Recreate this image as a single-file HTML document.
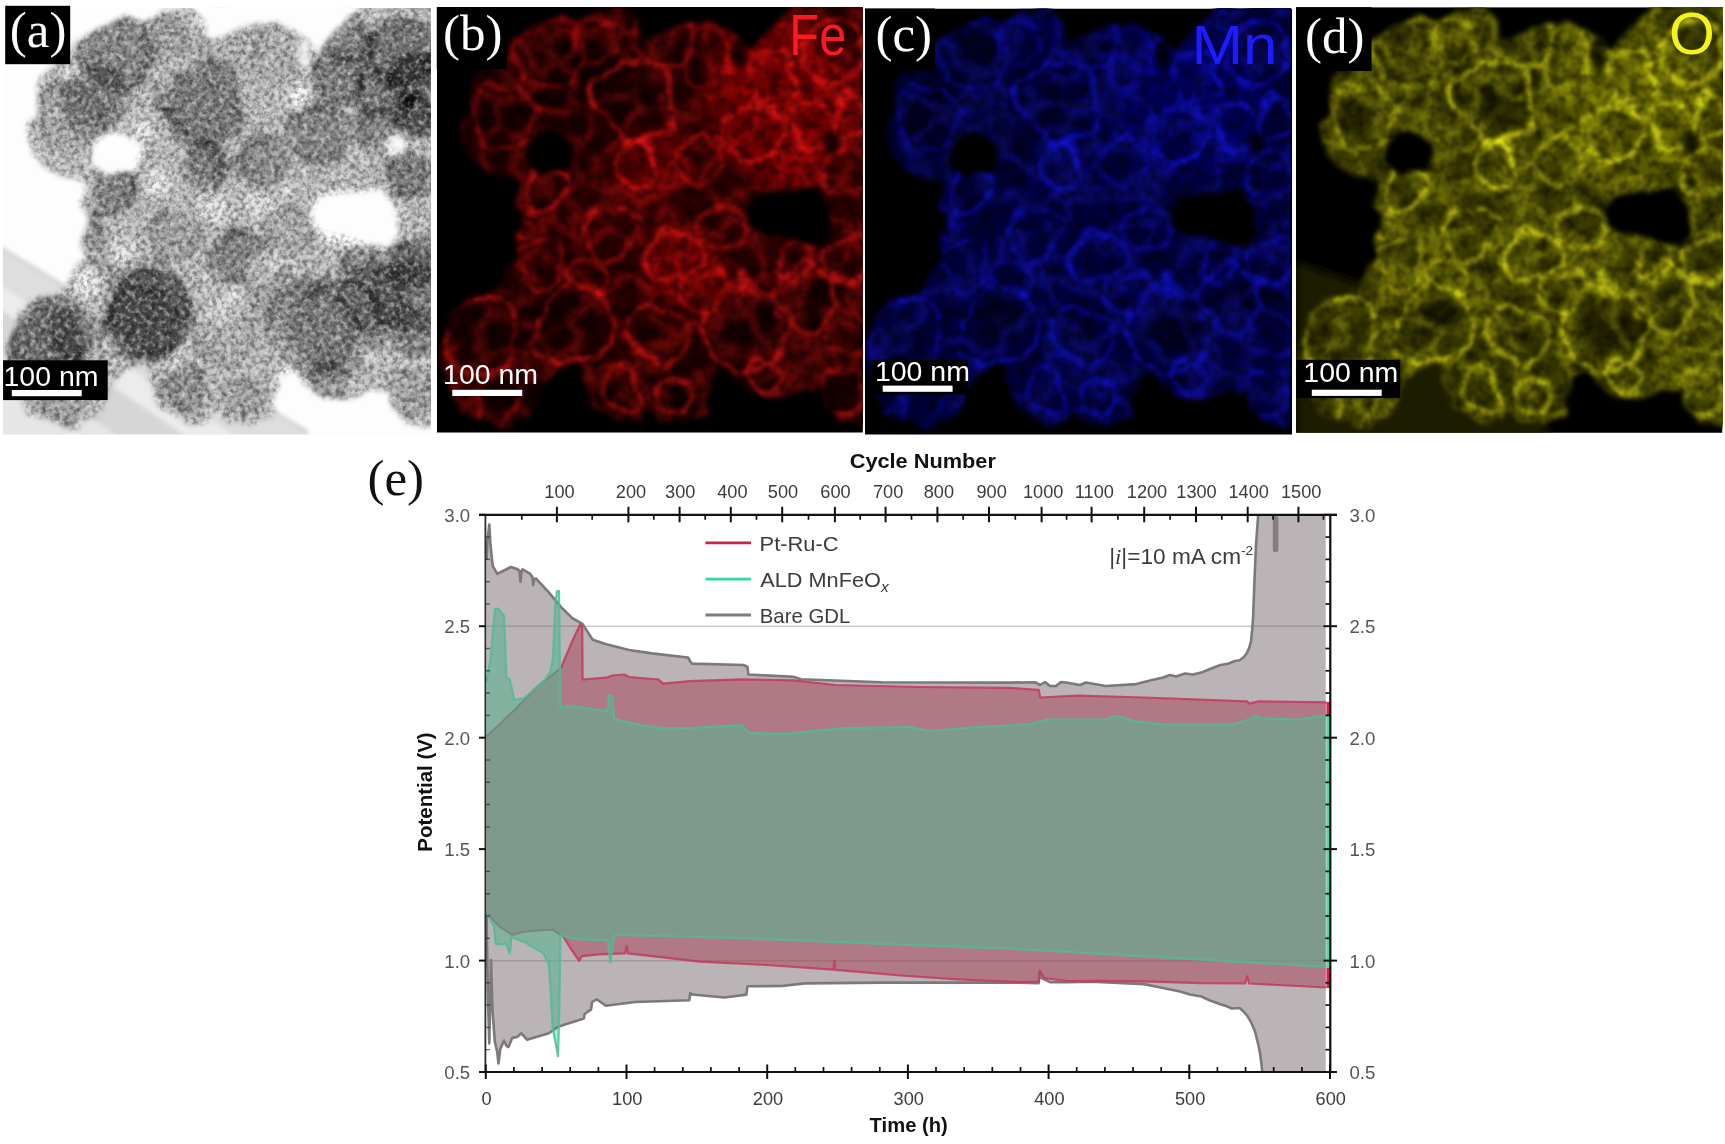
<!DOCTYPE html>
<html><head><meta charset="utf-8"><title>Figure</title>
<style>
html,body{margin:0;padding:0;background:#fff;}
body{width:1725px;height:1144px;overflow:hidden;}
svg{display:block;}
</style></head><body>
<svg width="1725" height="1144" viewBox="0 0 1725 1144">
<rect width="1725" height="1144" fill="#fff"/>
<defs>
<filter id="b3" x="-10%" y="-10%" width="120%" height="120%"><feGaussianBlur stdDeviation="3"/></filter>
<filter id="b2" x="-10%" y="-10%" width="120%" height="120%"><feGaussianBlur stdDeviation="2"/></filter>
<filter id="b5" x="-20%" y="-20%" width="140%" height="140%"><feGaussianBlur stdDeviation="5"/></filter>
<filter id="b9" x="-30%" y="-30%" width="160%" height="160%"><feGaussianBlur stdDeviation="9"/></filter>
<filter id="wob" x="-5%" y="-5%" width="110%" height="110%" color-interpolation-filters="sRGB"><feTurbulence type="fractalNoise" baseFrequency="0.022" numOctaves="3" seed="4" result="t"/><feDisplacementMap in="SourceGraphic" in2="t" scale="32" xChannelSelector="R" yChannelSelector="G"/><feGaussianBlur stdDeviation="2.3"/></filter>
<filter id="wobm" x="-5%" y="-5%" width="110%" height="110%" color-interpolation-filters="sRGB"><feTurbulence type="fractalNoise" baseFrequency="0.035" numOctaves="2" seed="8" result="t"/><feDisplacementMap in="SourceGraphic" in2="t" scale="16" xChannelSelector="R" yChannelSelector="G"/><feGaussianBlur stdDeviation="2.4"/></filter>
<filter id="wobA" x="-5%" y="-5%" width="110%" height="110%" color-interpolation-filters="sRGB"><feTurbulence type="fractalNoise" baseFrequency="0.03" numOctaves="2" seed="14" result="t"/><feDisplacementMap in="SourceGraphic" in2="t" scale="20" xChannelSelector="R" yChannelSelector="G"/><feGaussianBlur stdDeviation="3"/></filter>
<g id="silshape">
<polygon points="81.5,30.8 100.8,19.2 120.0,9.6 143.1,11.5 158.5,3.8 185.4,1.9 196.9,15.4 204.6,30.8 227.7,27.7 250.8,20.0 266.2,14.6 289.2,20.0 306.5,34.6 314.2,50.0 325.8,37.7 335.4,22.3 346.9,8.5 358.5,-0.8 435.4,-3.8 435.4,416.2 408.5,414.2 393.1,400.0 385.4,378.1 358.5,381.5 335.4,393.1 312.3,385.4 293.1,362.3 274.6,366.2 266.9,388.5 264.6,407.7 250.8,416.2 227.7,414.2 216.9,400.0 204.6,412.3 181.5,414.2 162.3,400.8 151.5,373.8 139.2,358.5 120.0,362.3 104.6,377.7 93.1,400.8 73.8,416.2 46.9,416.2 23.8,404.6 10.4,376.9 4.6,338.5 12.3,311.5 31.5,293.1 54.6,288.5 70.0,273.1 81.5,253.8 79.6,230.8 85.4,211.5 80.8,192.3 85.4,173.1 66.2,166.2 46.9,161.5 31.5,146.2 27.7,119.2 34.6,88.5 40.0,69.2 58.5,53.8" fill="#fff" stroke="#fff" stroke-width="4" stroke-linejoin="round"/>
<polygon points="308.5,201.9 335.4,185.8 373.8,181.5 390.0,200.0 393.8,223.1 378.5,238.5 350.8,227.7 327.7,223.8 312.3,213.5" fill="#000" stroke="#000" stroke-width="3" stroke-linejoin="round"/>
<ellipse cx="114" cy="146" rx="25" ry="20" fill="#000"/>
<ellipse cx="397.7" cy="135.4" rx="9" ry="8" fill="#000" fill-opacity="0.8"/>
<ellipse cx="300.8" cy="46.2" rx="9" ry="16" fill="#000" fill-opacity="0.7"/>
</g>
<mask id="silmask" maskUnits="userSpaceOnUse" x="0" y="0" width="430" height="430"><rect width="430" height="430" fill="#000"/><g filter="url(#wobm)"><rect x="-20" y="-20" width="1" height="1" fill="#000"/><use href="#silshape"/></g></mask>
<g id="rings" fill="none" stroke="#fff">
<circle cx="198.8" cy="96.2" r="38.4" stroke-opacity="0.75" stroke-width="4.5"/>
<circle cx="204.6" cy="155.8" r="21.1" stroke-opacity="1.00" stroke-width="4.5"/>
<circle cx="112.3" cy="184.6" r="19.2" stroke-opacity="0.80" stroke-width="4.5"/>
<circle cx="116.2" cy="44.2" r="36.5" stroke-opacity="0.40" stroke-width="4.5"/>
<circle cx="64.2" cy="107.7" r="31.8" stroke-opacity="0.50" stroke-width="4.5"/>
<circle cx="223.8" cy="34.6" r="28.8" stroke-opacity="0.45" stroke-width="4.5"/>
<circle cx="270.0" cy="50.0" r="24.9" stroke-opacity="0.40" stroke-width="4.5"/>
<circle cx="335.4" cy="69.2" r="24.9" stroke-opacity="0.85" stroke-width="4.5"/>
<circle cx="396.9" cy="42.3" r="34.5" stroke-opacity="0.70" stroke-width="4.5"/>
<circle cx="316.2" cy="126.9" r="28.8" stroke-opacity="0.90" stroke-width="4.5"/>
<circle cx="373.8" cy="119.2" r="21.1" stroke-opacity="0.85" stroke-width="4.5"/>
<circle cx="406.5" cy="165.4" r="21.1" stroke-opacity="0.70" stroke-width="4.5"/>
<circle cx="258.5" cy="153.8" r="24.9" stroke-opacity="0.60" stroke-width="4.5"/>
<circle cx="235.4" cy="248.1" r="24.9" stroke-opacity="0.85" stroke-width="4.5"/>
<circle cx="173.8" cy="226.9" r="24.9" stroke-opacity="0.60" stroke-width="4.5"/>
<circle cx="285.4" cy="223.1" r="24.9" stroke-opacity="0.60" stroke-width="4.5"/>
<circle cx="43.1" cy="330.8" r="36.5" stroke-opacity="0.70" stroke-width="4.5"/>
<circle cx="139.2" cy="315.4" r="36.5" stroke-opacity="0.75" stroke-width="4.5"/>
<circle cx="220.0" cy="330.8" r="28.8" stroke-opacity="0.60" stroke-width="4.5"/>
<circle cx="308.5" cy="319.2" r="44.2" stroke-opacity="0.70" stroke-width="4.5"/>
<circle cx="370.0" cy="292.3" r="32.6" stroke-opacity="0.60" stroke-width="4.5"/>
<circle cx="410.4" cy="253.8" r="21.1" stroke-opacity="0.65" stroke-width="4.5"/>
<circle cx="181.5" cy="378.8" r="21.1" stroke-opacity="0.60" stroke-width="4.5"/>
<circle cx="243.1" cy="390.4" r="19.2" stroke-opacity="0.65" stroke-width="4.5"/>
<circle cx="323.8" cy="367.3" r="17.2" stroke-opacity="0.75" stroke-width="4.5"/>
<circle cx="56.5" cy="394.2" r="21.1" stroke-opacity="0.40" stroke-width="4.5"/>
<circle cx="410.4" cy="386.5" r="21.1" stroke-opacity="0.60" stroke-width="4.5"/>
<circle cx="104.6" cy="257.7" r="21.1" stroke-opacity="0.55" stroke-width="4.5"/>
<circle cx="150.8" cy="269.2" r="17.2" stroke-opacity="0.55" stroke-width="4.5"/>
<circle cx="358.5" cy="253.8" r="19.2" stroke-opacity="0.60" stroke-width="4.5"/>
<circle cx="162.3" cy="28.8" r="21.1" stroke-opacity="0.40" stroke-width="4.5"/>
<circle cx="412.3" cy="107.7" r="19.2" stroke-opacity="0.70" stroke-width="4.5"/>
<circle cx="409.2" cy="67.3" r="22.6" stroke-opacity="0.00" stroke-width="4.5"/>
<circle cx="412.3" cy="323.1" r="21.1" stroke-opacity="0.50" stroke-width="4.5"/>
<circle cx="87.3" cy="219.2" r="13.4" stroke-opacity="0.50" stroke-width="4.5"/>
<circle cx="266.2" cy="284.6" r="19.2" stroke-opacity="0.55" stroke-width="4.5"/>
<circle cx="91.2" cy="90.4" r="30.7" stroke-opacity="0.00" stroke-width="4.5"/>
<circle cx="145.0" cy="303.8" r="41.1" stroke-opacity="0.00" stroke-width="4.5"/>
<circle cx="71.2" cy="326.9" r="21.1" stroke-opacity="0.00" stroke-width="4.5"/>
<circle cx="335.0" cy="316.9" r="47.2" stroke-opacity="0.00" stroke-width="4.5"/>
<circle cx="401.9" cy="288.1" r="32.6" stroke-opacity="0.00" stroke-width="4.5"/>
<circle cx="377.7" cy="86.5" r="24.9" stroke-opacity="0.00" stroke-width="4.5"/>
<circle cx="346.9" cy="34.6" r="21.1" stroke-opacity="0.00" stroke-width="4.5"/>
</g>
<filter id="filB" x="0" y="0" width="100%" height="100%" color-interpolation-filters="sRGB"><feTurbulence type="fractalNoise" baseFrequency="0.022" numOctaves="2" seed="3" result="n"/><feColorMatrix type="matrix" values="0 0 0 0 1  0 0 0 0 1  0 0 0 0 1  1.8 0 0 0 -0.4"/><feComponentTransfer><feFuncA type="table" tableValues="0 0 0 0.1 0.6 1 0.6 0.1 0 0 0"/></feComponentTransfer><feGaussianBlur stdDeviation="2.2" result="al"/><feFlood flood-color="#ff1a1a"/><feComposite operator="in" in2="al"/></filter>
<filter id="filC" x="0" y="0" width="100%" height="100%" color-interpolation-filters="sRGB"><feTurbulence type="fractalNoise" baseFrequency="0.021" numOctaves="2" seed="11" result="n"/><feColorMatrix type="matrix" values="0 0 0 0 1  0 0 0 0 1  0 0 0 0 1  1.8 0 0 0 -0.4"/><feComponentTransfer><feFuncA type="table" tableValues="0 0 0 0.1 0.6 1 0.6 0.1 0 0 0"/></feComponentTransfer><feGaussianBlur stdDeviation="2.2" result="al"/><feFlood flood-color="#2626ff"/><feComposite operator="in" in2="al"/></filter>
<filter id="filD" x="0" y="0" width="100%" height="100%" color-interpolation-filters="sRGB"><feTurbulence type="fractalNoise" baseFrequency="0.022" numOctaves="2" seed="7" result="n"/><feColorMatrix type="matrix" values="0 0 0 0 1  0 0 0 0 1  0 0 0 0 1  1.8 0 0 0 -0.4"/><feComponentTransfer><feFuncA type="table" tableValues="0 0 0 0.1 0.6 1 0.6 0.1 0 0 0"/></feComponentTransfer><feGaussianBlur stdDeviation="2.2" result="al"/><feFlood flood-color="#f4f420"/><feComposite operator="in" in2="al"/></filter>
<filter id="grain" x="0" y="0" width="100%" height="100%" color-interpolation-filters="sRGB"><feTurbulence type="fractalNoise" baseFrequency="0.09" numOctaves="2" seed="5"/><feColorMatrix type="matrix" values="0 0 0 0 0  0 0 0 0 0  0 0 0 0 0  2.2 0 0 0 -0.75"/></filter>
<filter id="grainA" x="0" y="0" width="100%" height="100%" color-interpolation-filters="sRGB"><feTurbulence type="fractalNoise" baseFrequency="0.21" numOctaves="3" seed="9"/><feColorMatrix type="matrix" values="0 0 0 0 0  0 0 0 0 0  0 0 0 0 0  2.6 0 0 0 -0.95"/></filter>
<filter id="grainW" x="0" y="0" width="100%" height="100%" color-interpolation-filters="sRGB"><feTurbulence type="fractalNoise" baseFrequency="0.18" numOctaves="3" seed="21"/><feColorMatrix type="matrix" values="0 0 0 0 1  0 0 0 0 1  0 0 0 0 1  2.6 0 0 0 -1.15"/></filter>
<clipPath id="clipa"><rect width="427.2" height="426.5"/></clipPath>
<clipPath id="clipb"><rect width="426.0" height="425.4"/></clipPath>
<clipPath id="clipc"><rect width="427.0" height="426.0"/></clipPath>
<clipPath id="clipd"><rect width="426.2" height="425.5"/></clipPath>
</defs>
<g transform="translate(3.0,7.9)" clip-path="url(#clipa)">
<rect width="430" height="430" fill="#fdfdfd"/>
<g filter="url(#b2)">
<polygon points="-5,238 305,424 305,440 -5,440" fill="#dedede"/>
<polygon points="-5,276 250,440 -5,440" fill="#ececec"/>
<polygon points="-5,300 200,440 -5,440" fill="#d6d6d6"/>
<polygon points="-5,340 130,440 -5,440" fill="#e6e6e6"/>
<polyline points="-5,238 305,424" fill="none" stroke="#c4c4c4" stroke-width="2"/>
</g>
<g mask="url(#silmask)">
<rect width="430" height="430" fill="#c6c6c6"/>
<g filter="url(#wobA)"><rect x="-20" y="-20" width="1" height="1" fill="#000"/>
<circle cx="198.8" cy="96.2" r="40.4" fill="#000" fill-opacity="0.36"/>
<circle cx="204.6" cy="155.8" r="23.1" fill="#000" fill-opacity="0.36"/>
<circle cx="112.3" cy="184.6" r="21.2" fill="#000" fill-opacity="0.32"/>
<circle cx="116.2" cy="44.2" r="38.5" fill="#000" fill-opacity="0.29"/>
<circle cx="64.2" cy="107.7" r="33.8" fill="#000" fill-opacity="0.11"/>
<circle cx="223.8" cy="34.6" r="30.8" fill="#000" fill-opacity="0.06"/>
<circle cx="270.0" cy="50.0" r="26.9" fill="#000" fill-opacity="0.06"/>
<circle cx="335.4" cy="69.2" r="26.9" fill="#000" fill-opacity="0.32"/>
<circle cx="396.9" cy="42.3" r="36.5" fill="#000" fill-opacity="0.40"/>
<circle cx="316.2" cy="126.9" r="30.8" fill="#000" fill-opacity="0.29"/>
<circle cx="373.8" cy="119.2" r="23.1" fill="#000" fill-opacity="0.25"/>
<circle cx="406.5" cy="165.4" r="23.1" fill="#000" fill-opacity="0.36"/>
<circle cx="258.5" cy="153.8" r="26.9" fill="#000" fill-opacity="0.25"/>
<circle cx="235.4" cy="248.1" r="26.9" fill="#000" fill-opacity="0.32"/>
<circle cx="173.8" cy="226.9" r="26.9" fill="#000" fill-opacity="0.14"/>
<circle cx="285.4" cy="223.1" r="26.9" fill="#000" fill-opacity="0.09"/>
<circle cx="43.1" cy="330.8" r="38.5" fill="#000" fill-opacity="0.45"/>
<circle cx="139.2" cy="315.4" r="38.5" fill="#000" fill-opacity="0.32"/>
<circle cx="220.0" cy="330.8" r="30.8" fill="#000" fill-opacity="0.07"/>
<circle cx="308.5" cy="319.2" r="46.2" fill="#000" fill-opacity="0.18"/>
<circle cx="370.0" cy="292.3" r="34.6" fill="#000" fill-opacity="0.29"/>
<circle cx="410.4" cy="253.8" r="23.1" fill="#000" fill-opacity="0.45"/>
<circle cx="181.5" cy="378.8" r="23.1" fill="#000" fill-opacity="0.22"/>
<circle cx="243.1" cy="390.4" r="21.2" fill="#000" fill-opacity="0.11"/>
<circle cx="323.8" cy="367.3" r="19.2" fill="#000" fill-opacity="0.22"/>
<circle cx="56.5" cy="394.2" r="23.1" fill="#000" fill-opacity="0.13"/>
<circle cx="410.4" cy="386.5" r="23.1" fill="#000" fill-opacity="0.13"/>
<circle cx="104.6" cy="257.7" r="23.1" fill="#000" fill-opacity="0.16"/>
<circle cx="150.8" cy="269.2" r="19.2" fill="#000" fill-opacity="0.11"/>
<circle cx="358.5" cy="253.8" r="21.2" fill="#000" fill-opacity="0.22"/>
<circle cx="162.3" cy="28.8" r="23.1" fill="#000" fill-opacity="0.09"/>
<circle cx="412.3" cy="107.7" r="21.2" fill="#000" fill-opacity="0.58"/>
<circle cx="409.2" cy="67.3" r="24.6" fill="#000" fill-opacity="0.45"/>
<circle cx="412.3" cy="323.1" r="23.1" fill="#000" fill-opacity="0.32"/>
<circle cx="87.3" cy="219.2" r="15.4" fill="#000" fill-opacity="0.22"/>
<circle cx="266.2" cy="284.6" r="21.2" fill="#000" fill-opacity="0.14"/>
<circle cx="91.2" cy="90.4" r="32.7" fill="#000" fill-opacity="0.32"/>
<circle cx="145.0" cy="303.8" r="43.1" fill="#000" fill-opacity="0.45"/>
<circle cx="71.2" cy="326.9" r="23.1" fill="#000" fill-opacity="0.29"/>
<circle cx="335.0" cy="316.9" r="49.2" fill="#000" fill-opacity="0.23"/>
<circle cx="401.9" cy="288.1" r="34.6" fill="#000" fill-opacity="0.36"/>
<circle cx="377.7" cy="86.5" r="26.9" fill="#000" fill-opacity="0.32"/>
<circle cx="346.9" cy="34.6" r="23.1" fill="#000" fill-opacity="0.29"/>
</g>
<g fill="none" stroke="#000" stroke-linecap="round" filter="url(#wob)"><rect x="-20" y="-20" width="1" height="1" fill="#000" stroke="none"/>
<circle cx="198.8" cy="96.2" r="38.4" stroke-opacity="0.40" stroke-width="4.5" stroke-dasharray="102.9 31.5 68.3 36.6" transform="rotate(266 198.8 96.2)"/>
<circle cx="204.6" cy="155.8" r="21.1" stroke-opacity="0.40" stroke-width="4.5" stroke-dasharray="69.7 7.7 31.9 20.9" transform="rotate(234 204.6 155.8)"/>
<circle cx="112.3" cy="184.6" r="19.2" stroke-opacity="0.37" stroke-width="4.5" stroke-dasharray="63.2 8.2 29.3 9.9" transform="rotate(196 112.3 184.6)"/>
<circle cx="116.2" cy="44.2" r="36.5" stroke-opacity="0.34" stroke-width="4.5" stroke-dasharray="95.1 12.4 44.1 18.8" transform="rotate(330 116.2 44.2)"/>
<circle cx="64.2" cy="107.7" r="31.8" stroke-opacity="0.20" stroke-width="4.5" stroke-dasharray="93.9 14.0 57.3 13.6" transform="rotate(222 64.2 107.7)"/>
<circle cx="223.8" cy="34.6" r="28.8" stroke-opacity="0.16" stroke-width="4.5" stroke-dasharray="54.5 9.7 54.3 13.7" transform="rotate(78 223.8 34.6)"/>
<circle cx="270.0" cy="50.0" r="24.9" stroke-opacity="0.16" stroke-width="4.5" stroke-dasharray="83.8 23.2 32.7 24.7" transform="rotate(194 270.0 50.0)"/>
<circle cx="335.4" cy="69.2" r="24.9" stroke-opacity="0.37" stroke-width="4.5" stroke-dasharray="71.0 11.9 49.2 20.1" transform="rotate(348 335.4 69.2)"/>
<circle cx="396.9" cy="42.3" r="34.5" stroke-opacity="0.42" stroke-width="4.5" stroke-dasharray="108.7 18.3 46.9 15.3" transform="rotate(52 396.9 42.3)"/>
<circle cx="316.2" cy="126.9" r="28.8" stroke-opacity="0.34" stroke-width="4.5" stroke-dasharray="51.5 15.5 46.5 9.7" transform="rotate(244 316.2 126.9)"/>
<circle cx="373.8" cy="119.2" r="21.1" stroke-opacity="0.31" stroke-width="4.5" stroke-dasharray="48.5 11.7 39.6 14.2" transform="rotate(114 373.8 119.2)"/>
<circle cx="406.5" cy="165.4" r="21.1" stroke-opacity="0.40" stroke-width="4.5" stroke-dasharray="53.7 17.5 23.0 21.4" transform="rotate(8 406.5 165.4)"/>
<circle cx="258.5" cy="153.8" r="24.9" stroke-opacity="0.31" stroke-width="4.5" stroke-dasharray="74.0 22.7 25.8 21.8" transform="rotate(132 258.5 153.8)"/>
<circle cx="235.4" cy="248.1" r="24.9" stroke-opacity="0.37" stroke-width="4.5" stroke-dasharray="66.8 8.6 26.6 11.5" transform="rotate(344 235.4 248.1)"/>
<circle cx="173.8" cy="226.9" r="24.9" stroke-opacity="0.23" stroke-width="4.5" stroke-dasharray="50.6 21.2 49.0 24.4" transform="rotate(124 173.8 226.9)"/>
<circle cx="285.4" cy="223.1" r="24.9" stroke-opacity="0.19" stroke-width="4.5" stroke-dasharray="57.3 17.3 45.1 10.3" transform="rotate(269 285.4 223.1)"/>
<circle cx="43.1" cy="330.8" r="36.5" stroke-opacity="0.46" stroke-width="4.5" stroke-dasharray="108.6 32.9 37.6 34.9" transform="rotate(33 43.1 330.8)"/>
<circle cx="139.2" cy="315.4" r="36.5" stroke-opacity="0.37" stroke-width="4.5" stroke-dasharray="81.0 26.8 69.5 20.3" transform="rotate(333 139.2 315.4)"/>
<circle cx="220.0" cy="330.8" r="28.8" stroke-opacity="0.17" stroke-width="4.5" stroke-dasharray="74.7 15.7 38.2 13.1" transform="rotate(28 220.0 330.8)"/>
<circle cx="308.5" cy="319.2" r="44.2" stroke-opacity="0.26" stroke-width="4.5" stroke-dasharray="83.3 34.5 86.9 19.2" transform="rotate(17 308.5 319.2)"/>
<circle cx="370.0" cy="292.3" r="32.6" stroke-opacity="0.34" stroke-width="4.5" stroke-dasharray="108.0 22.5 45.9 16.0" transform="rotate(214 370.0 292.3)"/>
<circle cx="410.4" cy="253.8" r="21.1" stroke-opacity="0.46" stroke-width="4.5" stroke-dasharray="66.2 13.9 30.9 8.1" transform="rotate(330 410.4 253.8)"/>
<circle cx="181.5" cy="378.8" r="21.1" stroke-opacity="0.29" stroke-width="4.5" stroke-dasharray="37.4 14.4 40.0 9.1" transform="rotate(263 181.5 378.8)"/>
<circle cx="243.1" cy="390.4" r="19.2" stroke-opacity="0.20" stroke-width="4.5" stroke-dasharray="64.8 15.0 35.6 8.1" transform="rotate(156 243.1 390.4)"/>
<circle cx="323.8" cy="367.3" r="17.2" stroke-opacity="0.29" stroke-width="4.5" stroke-dasharray="34.7 16.2 23.5 11.5" transform="rotate(360 323.8 367.3)"/>
<circle cx="56.5" cy="394.2" r="21.1" stroke-opacity="0.22" stroke-width="4.5" stroke-dasharray="67.1 21.4 31.6 14.3" transform="rotate(263 56.5 394.2)"/>
<circle cx="410.4" cy="386.5" r="21.1" stroke-opacity="0.22" stroke-width="4.5" stroke-dasharray="53.6 11.5 30.5 9.4" transform="rotate(136 410.4 386.5)"/>
<circle cx="104.6" cy="257.7" r="21.1" stroke-opacity="0.24" stroke-width="4.5" stroke-dasharray="72.1 21.2 35.4 14.5" transform="rotate(122 104.6 257.7)"/>
<circle cx="150.8" cy="269.2" r="17.2" stroke-opacity="0.20" stroke-width="4.5" stroke-dasharray="32.9 9.3 32.3 16.5" transform="rotate(130 150.8 269.2)"/>
<circle cx="358.5" cy="253.8" r="19.2" stroke-opacity="0.29" stroke-width="4.5" stroke-dasharray="59.3 16.9 33.8 15.5" transform="rotate(273 358.5 253.8)"/>
<circle cx="162.3" cy="28.8" r="21.1" stroke-opacity="0.19" stroke-width="4.5" stroke-dasharray="49.4 17.5 27.9 14.3" transform="rotate(277 162.3 28.8)"/>
<circle cx="412.3" cy="107.7" r="19.2" stroke-opacity="0.56" stroke-width="4.5" stroke-dasharray="56.2 10.6 38.8 15.3" transform="rotate(209 412.3 107.7)"/>
<circle cx="409.2" cy="67.3" r="22.6" stroke-opacity="0.46" stroke-width="4.5" stroke-dasharray="39.1 16.2 29.0 18.1" transform="rotate(167 409.2 67.3)"/>
<circle cx="412.3" cy="323.1" r="21.1" stroke-opacity="0.37" stroke-width="4.5" stroke-dasharray="65.9 16.6 39.1 12.3" transform="rotate(232 412.3 323.1)"/>
<circle cx="87.3" cy="219.2" r="13.4" stroke-opacity="0.29" stroke-width="4.5" stroke-dasharray="42.0 12.8 19.6 13.0" transform="rotate(313 87.3 219.2)"/>
<circle cx="266.2" cy="284.6" r="19.2" stroke-opacity="0.23" stroke-width="4.5" stroke-dasharray="56.1 19.6 39.0 13.5" transform="rotate(191 266.2 284.6)"/>
<circle cx="91.2" cy="90.4" r="30.7" stroke-opacity="0.37" stroke-width="4.5" stroke-dasharray="59.9 27.5 59.7 20.1" transform="rotate(249 91.2 90.4)"/>
<circle cx="145.0" cy="303.8" r="41.1" stroke-opacity="0.46" stroke-width="4.5" stroke-dasharray="116.4 33.3 47.6 34.7" transform="rotate(209 145.0 303.8)"/>
<circle cx="71.2" cy="326.9" r="21.1" stroke-opacity="0.34" stroke-width="4.5" stroke-dasharray="60.4 13.4 35.3 18.5" transform="rotate(229 71.2 326.9)"/>
<circle cx="335.0" cy="316.9" r="47.2" stroke-opacity="0.30" stroke-width="4.5" stroke-dasharray="133.0 16.3 53.8 29.1" transform="rotate(234 335.0 316.9)"/>
<circle cx="401.9" cy="288.1" r="32.6" stroke-opacity="0.40" stroke-width="4.5" stroke-dasharray="66.3 25.8 53.2 11.8" transform="rotate(170 401.9 288.1)"/>
<circle cx="377.7" cy="86.5" r="24.9" stroke-opacity="0.37" stroke-width="4.5" stroke-dasharray="51.9 9.4 28.8 13.8" transform="rotate(65 377.7 86.5)"/>
<circle cx="346.9" cy="34.6" r="21.1" stroke-opacity="0.34" stroke-width="4.5" stroke-dasharray="43.3 7.8 31.9 12.8" transform="rotate(220 346.9 34.6)"/>
</g>
<g filter="url(#wobA)"><rect x="-20" y="-20" width="1" height="1" fill="#fff"/>
<ellipse cx="116.2" cy="144.2" rx="23.8" ry="17.7" fill="#fff" fill-opacity="1.00"/>
<ellipse cx="141.2" cy="125.0" rx="10.8" ry="11.5" fill="#fff" fill-opacity="0.70"/>
<ellipse cx="293.1" cy="86.5" rx="12.3" ry="13.1" fill="#fff" fill-opacity="0.85"/>
<ellipse cx="391.2" cy="140.4" rx="11.5" ry="10.8" fill="#fff" fill-opacity="0.80"/>
<ellipse cx="154.6" cy="173.1" rx="13.1" ry="11.5" fill="#fff" fill-opacity="0.70"/>
<ellipse cx="208.5" cy="201.9" rx="16.2" ry="12.3" fill="#fff" fill-opacity="0.60"/>
<ellipse cx="258.5" cy="257.7" rx="15.4" ry="15.4" fill="#fff" fill-opacity="0.55"/>
<ellipse cx="235.4" cy="288.5" rx="11.5" ry="10.0" fill="#fff" fill-opacity="0.60"/>
<ellipse cx="120.0" cy="242.3" rx="13.1" ry="11.5" fill="#fff" fill-opacity="0.75"/>
<ellipse cx="214.2" cy="303.8" rx="13.1" ry="11.5" fill="#fff" fill-opacity="0.50"/>
<ellipse cx="258.5" cy="198.1" rx="15.4" ry="11.5" fill="#fff" fill-opacity="0.50"/>
<ellipse cx="85.4" cy="273.1" rx="13.1" ry="15.4" fill="#fff" fill-opacity="0.80"/>
<ellipse cx="348.8" cy="211.5" rx="45.4" ry="27.7" fill="#fff" fill-opacity="1.00"/>
<ellipse cx="281.5" cy="176.9" rx="11.5" ry="10.0" fill="#fff" fill-opacity="0.50"/>
<ellipse cx="170.0" cy="353.8" rx="10.0" ry="9.2" fill="#fff" fill-opacity="0.50"/>
<ellipse cx="285.4" cy="369.2" rx="10.0" ry="11.5" fill="#fff" fill-opacity="0.70"/>
<ellipse cx="366.2" cy="348.1" rx="11.5" ry="8.5" fill="#fff" fill-opacity="0.60"/>
<ellipse cx="70.0" cy="65.4" rx="11.5" ry="10.0" fill="#fff" fill-opacity="0.50"/>
<ellipse cx="196.9" cy="15.4" rx="8.5" ry="8.5" fill="#fff" fill-opacity="0.50"/>
</g>
<rect width="430" height="430" fill="#000" filter="url(#grainA)" opacity="0.40"/>
<rect width="430" height="430" fill="#fff" filter="url(#grainW)" opacity="0.50"/>
</g>
</g>
<g transform="translate(436.8,7.0)" clip-path="url(#clipb)">
<rect width="430" height="430" fill="#000"/>

<g transform="translate(0.0,0)">
<g mask="url(#silmask)">
<rect x="-10" width="450" height="430" fill="#2c0000"/>
<circle cx="198.8" cy="96.2" r="22.2" fill="#000" fill-opacity="0.30" filter="url(#b5)"/>
<circle cx="116.2" cy="44.2" r="21.2" fill="#000" fill-opacity="0.30" filter="url(#b5)"/>
<circle cx="64.2" cy="107.7" r="18.6" fill="#000" fill-opacity="0.30" filter="url(#b5)"/>
<circle cx="223.8" cy="34.6" r="16.9" fill="#000" fill-opacity="0.30" filter="url(#b5)"/>
<circle cx="396.9" cy="42.3" r="20.1" fill="#000" fill-opacity="0.30" filter="url(#b5)"/>
<circle cx="316.2" cy="126.9" r="16.9" fill="#000" fill-opacity="0.30" filter="url(#b5)"/>
<circle cx="43.1" cy="330.8" r="21.2" fill="#000" fill-opacity="0.30" filter="url(#b5)"/>
<circle cx="139.2" cy="315.4" r="21.2" fill="#000" fill-opacity="0.30" filter="url(#b5)"/>
<circle cx="220.0" cy="330.8" r="16.9" fill="#000" fill-opacity="0.30" filter="url(#b5)"/>
<circle cx="308.5" cy="319.2" r="25.4" fill="#000" fill-opacity="0.30" filter="url(#b5)"/>
<circle cx="370.0" cy="292.3" r="19.0" fill="#000" fill-opacity="0.30" filter="url(#b5)"/>
<circle cx="91.2" cy="90.4" r="18.0" fill="#000" fill-opacity="0.30" filter="url(#b5)"/>
<circle cx="145.0" cy="303.8" r="23.7" fill="#000" fill-opacity="0.30" filter="url(#b5)"/>
<circle cx="335.0" cy="316.9" r="27.1" fill="#000" fill-opacity="0.30" filter="url(#b5)"/>
<circle cx="401.9" cy="288.1" r="19.0" fill="#000" fill-opacity="0.30" filter="url(#b5)"/>
<ellipse cx="345.0" cy="95.0" rx="75.0" ry="85.0" fill="#ff0000" fill-opacity="0.30" filter="url(#b9)"/><ellipse cx="215.0" cy="160.0" rx="35.0" ry="35.0" fill="#ff0000" fill-opacity="0.22" filter="url(#b9)"/><ellipse cx="250.0" cy="262.0" rx="45.0" ry="40.0" fill="#ff0000" fill-opacity="0.22" filter="url(#b9)"/><ellipse cx="95.0" cy="120.0" rx="70.0" ry="90.0" fill="#000" fill-opacity="0.35" filter="url(#b9)"/><ellipse cx="190.0" cy="60.0" rx="70.0" ry="50.0" fill="#000" fill-opacity="0.45" filter="url(#b9)"/><ellipse cx="90.0" cy="330.0" rx="80.0" ry="70.0" fill="#000" fill-opacity="0.25" filter="url(#b9)"/><ellipse cx="330.0" cy="350.0" rx="80.0" ry="60.0" fill="#000" fill-opacity="0.32" filter="url(#b9)"/><ellipse cx="200.0" cy="395.0" rx="80.0" ry="40.0" fill="#000" fill-opacity="0.35" filter="url(#b9)"/><ellipse cx="70.0" cy="340.0" rx="70.0" ry="70.0" fill="#000" fill-opacity="0.20" filter="url(#b9)"/><ellipse cx="215.0" cy="415.0" rx="230.0" ry="40.0" fill="#000" fill-opacity="0.40" filter="url(#b9)"/><ellipse cx="400.0" cy="330.0" rx="40.0" ry="80.0" fill="#000" fill-opacity="0.30" filter="url(#b9)"/>
<rect width="430" height="430" fill="#ff1a1a" filter="url(#filB)" opacity="0.30"/>
<g filter="url(#wob)" opacity="0.90"><rect x="-20" y="-20" width="1" height="1" fill="#000"/><g fill="none" stroke="#ff1a1a" stroke-linecap="round">
<circle cx="198.8" cy="96.2" r="38.4" stroke-opacity="0.34" stroke-width="5.0"/>
<circle cx="198.8" cy="96.2" r="38.4" stroke-opacity="0.52" stroke-width="5.0" stroke-dasharray="93.5 23.5 63.4 16.3" transform="rotate(4 198.8 96.2)"/>
<circle cx="204.6" cy="155.8" r="21.1" stroke-opacity="0.45" stroke-width="5.0"/>
<circle cx="204.6" cy="155.8" r="21.1" stroke-opacity="0.70" stroke-width="5.0" stroke-dasharray="49.8 9.0 39.4 17.3" transform="rotate(217 204.6 155.8)"/>
<circle cx="112.3" cy="184.6" r="19.2" stroke-opacity="0.36" stroke-width="5.0"/>
<circle cx="112.3" cy="184.6" r="19.2" stroke-opacity="0.56" stroke-width="5.0" stroke-dasharray="51.8 12.3 22.8 12.5" transform="rotate(58 112.3 184.6)"/>
<circle cx="116.2" cy="44.2" r="36.5" stroke-opacity="0.18" stroke-width="5.0"/>
<circle cx="116.2" cy="44.2" r="36.5" stroke-opacity="0.28" stroke-width="5.0" stroke-dasharray="115.1 10.8 65.9 13.9" transform="rotate(247 116.2 44.2)"/>
<circle cx="64.2" cy="107.7" r="31.8" stroke-opacity="0.23" stroke-width="5.0"/>
<circle cx="64.2" cy="107.7" r="31.8" stroke-opacity="0.35" stroke-width="5.0" stroke-dasharray="71.1 15.4 58.8 11.0" transform="rotate(22 64.2 107.7)"/>
<circle cx="223.8" cy="34.6" r="28.8" stroke-opacity="0.20" stroke-width="5.0"/>
<circle cx="223.8" cy="34.6" r="28.8" stroke-opacity="0.32" stroke-width="5.0" stroke-dasharray="92.6 15.6 31.6 28.7" transform="rotate(341 223.8 34.6)"/>
<circle cx="270.0" cy="50.0" r="24.9" stroke-opacity="0.18" stroke-width="5.0"/>
<circle cx="270.0" cy="50.0" r="24.9" stroke-opacity="0.28" stroke-width="5.0" stroke-dasharray="47.0 12.5 28.8 13.7" transform="rotate(224 270.0 50.0)"/>
<circle cx="335.4" cy="69.2" r="24.9" stroke-opacity="0.38" stroke-width="5.0"/>
<circle cx="335.4" cy="69.2" r="24.9" stroke-opacity="0.59" stroke-width="5.0" stroke-dasharray="49.2 16.2 26.7 11.4" transform="rotate(294 335.4 69.2)"/>
<circle cx="396.9" cy="42.3" r="34.5" stroke-opacity="0.32" stroke-width="5.0"/>
<circle cx="396.9" cy="42.3" r="34.5" stroke-opacity="0.49" stroke-width="5.0" stroke-dasharray="80.4 16.9 55.0 22.4" transform="rotate(138 396.9 42.3)"/>
<circle cx="316.2" cy="126.9" r="28.8" stroke-opacity="0.41" stroke-width="5.0"/>
<circle cx="316.2" cy="126.9" r="28.8" stroke-opacity="0.63" stroke-width="5.0" stroke-dasharray="49.8 19.0 57.1 28.5" transform="rotate(239 316.2 126.9)"/>
<circle cx="373.8" cy="119.2" r="21.1" stroke-opacity="0.38" stroke-width="5.0"/>
<circle cx="373.8" cy="119.2" r="21.1" stroke-opacity="0.59" stroke-width="5.0" stroke-dasharray="49.2 10.0 36.8 17.0" transform="rotate(41 373.8 119.2)"/>
<circle cx="406.5" cy="165.4" r="21.1" stroke-opacity="0.32" stroke-width="5.0"/>
<circle cx="406.5" cy="165.4" r="21.1" stroke-opacity="0.49" stroke-width="5.0" stroke-dasharray="44.8 10.0 32.9 19.0" transform="rotate(180 406.5 165.4)"/>
<circle cx="258.5" cy="153.8" r="24.9" stroke-opacity="0.27" stroke-width="5.0"/>
<circle cx="258.5" cy="153.8" r="24.9" stroke-opacity="0.42" stroke-width="5.0" stroke-dasharray="43.5 17.9 36.3 17.2" transform="rotate(80 258.5 153.8)"/>
<circle cx="235.4" cy="248.1" r="24.9" stroke-opacity="0.38" stroke-width="5.0"/>
<circle cx="235.4" cy="248.1" r="24.9" stroke-opacity="0.59" stroke-width="5.0" stroke-dasharray="60.4 12.0 45.0 10.2" transform="rotate(198 235.4 248.1)"/>
<circle cx="173.8" cy="226.9" r="24.9" stroke-opacity="0.27" stroke-width="5.0"/>
<circle cx="173.8" cy="226.9" r="24.9" stroke-opacity="0.42" stroke-width="5.0" stroke-dasharray="49.8 16.2 26.3 13.1" transform="rotate(124 173.8 226.9)"/>
<circle cx="285.4" cy="223.1" r="24.9" stroke-opacity="0.27" stroke-width="5.0"/>
<circle cx="285.4" cy="223.1" r="24.9" stroke-opacity="0.42" stroke-width="5.0" stroke-dasharray="69.2 7.5 37.0 12.0" transform="rotate(101 285.4 223.1)"/>
<circle cx="43.1" cy="330.8" r="36.5" stroke-opacity="0.32" stroke-width="5.0"/>
<circle cx="43.1" cy="330.8" r="36.5" stroke-opacity="0.49" stroke-width="5.0" stroke-dasharray="89.2 28.2 53.7 35.2" transform="rotate(60 43.1 330.8)"/>
<circle cx="139.2" cy="315.4" r="36.5" stroke-opacity="0.34" stroke-width="5.0"/>
<circle cx="139.2" cy="315.4" r="36.5" stroke-opacity="0.52" stroke-width="5.0" stroke-dasharray="116.3 16.7 43.1 30.2" transform="rotate(328 139.2 315.4)"/>
<circle cx="220.0" cy="330.8" r="28.8" stroke-opacity="0.27" stroke-width="5.0"/>
<circle cx="220.0" cy="330.8" r="28.8" stroke-opacity="0.42" stroke-width="5.0" stroke-dasharray="48.7 11.9 51.3 16.3" transform="rotate(87 220.0 330.8)"/>
<circle cx="308.5" cy="319.2" r="44.2" stroke-opacity="0.32" stroke-width="5.0"/>
<circle cx="308.5" cy="319.2" r="44.2" stroke-opacity="0.49" stroke-width="5.0" stroke-dasharray="73.1 12.5 70.4 43.0" transform="rotate(359 308.5 319.2)"/>
<circle cx="370.0" cy="292.3" r="32.6" stroke-opacity="0.27" stroke-width="5.0"/>
<circle cx="370.0" cy="292.3" r="32.6" stroke-opacity="0.42" stroke-width="5.0" stroke-dasharray="81.8 9.1 43.1 28.0" transform="rotate(300 370.0 292.3)"/>
<circle cx="410.4" cy="253.8" r="21.1" stroke-opacity="0.29" stroke-width="5.0"/>
<circle cx="410.4" cy="253.8" r="21.1" stroke-opacity="0.45" stroke-width="5.0" stroke-dasharray="59.4 8.5 33.2 14.2" transform="rotate(226 410.4 253.8)"/>
<circle cx="181.5" cy="378.8" r="21.1" stroke-opacity="0.27" stroke-width="5.0"/>
<circle cx="181.5" cy="378.8" r="21.1" stroke-opacity="0.42" stroke-width="5.0" stroke-dasharray="45.8 16.8 41.2 9.6" transform="rotate(105 181.5 378.8)"/>
<circle cx="243.1" cy="390.4" r="19.2" stroke-opacity="0.29" stroke-width="5.0"/>
<circle cx="243.1" cy="390.4" r="19.2" stroke-opacity="0.45" stroke-width="5.0" stroke-dasharray="62.2 8.3 38.8 13.5" transform="rotate(251 243.1 390.4)"/>
<circle cx="323.8" cy="367.3" r="17.2" stroke-opacity="0.34" stroke-width="5.0"/>
<circle cx="323.8" cy="367.3" r="17.2" stroke-opacity="0.52" stroke-width="5.0" stroke-dasharray="51.5 6.9 23.3 9.1" transform="rotate(246 323.8 367.3)"/>
<circle cx="56.5" cy="394.2" r="21.1" stroke-opacity="0.18" stroke-width="5.0"/>
<circle cx="56.5" cy="394.2" r="21.1" stroke-opacity="0.28" stroke-width="5.0" stroke-dasharray="61.4 7.3 41.0 13.3" transform="rotate(87 56.5 394.2)"/>
<circle cx="410.4" cy="386.5" r="21.1" stroke-opacity="0.27" stroke-width="5.0"/>
<circle cx="410.4" cy="386.5" r="21.1" stroke-opacity="0.42" stroke-width="5.0" stroke-dasharray="52.0 17.2 33.9 16.3" transform="rotate(331 410.4 386.5)"/>
<circle cx="104.6" cy="257.7" r="21.1" stroke-opacity="0.25" stroke-width="5.0"/>
<circle cx="104.6" cy="257.7" r="21.1" stroke-opacity="0.39" stroke-width="5.0" stroke-dasharray="71.1 14.6 30.8 15.8" transform="rotate(324 104.6 257.7)"/>
<circle cx="150.8" cy="269.2" r="17.2" stroke-opacity="0.25" stroke-width="5.0"/>
<circle cx="150.8" cy="269.2" r="17.2" stroke-opacity="0.39" stroke-width="5.0" stroke-dasharray="54.0 10.4 24.4 10.5" transform="rotate(265 150.8 269.2)"/>
<circle cx="358.5" cy="253.8" r="19.2" stroke-opacity="0.27" stroke-width="5.0"/>
<circle cx="358.5" cy="253.8" r="19.2" stroke-opacity="0.42" stroke-width="5.0" stroke-dasharray="51.9 5.5 34.1 18.7" transform="rotate(287 358.5 253.8)"/>
<circle cx="162.3" cy="28.8" r="21.1" stroke-opacity="0.18" stroke-width="5.0"/>
<circle cx="162.3" cy="28.8" r="21.1" stroke-opacity="0.28" stroke-width="5.0" stroke-dasharray="68.8 16.4 33.4 18.7" transform="rotate(137 162.3 28.8)"/>
<circle cx="412.3" cy="107.7" r="19.2" stroke-opacity="0.32" stroke-width="5.0"/>
<circle cx="412.3" cy="107.7" r="19.2" stroke-opacity="0.49" stroke-width="5.0" stroke-dasharray="36.5 9.1 26.2 19.1" transform="rotate(248 412.3 107.7)"/>
<circle cx="409.2" cy="67.3" r="22.6" stroke-opacity="0.00" stroke-width="5.0"/>
<circle cx="409.2" cy="67.3" r="22.6" stroke-opacity="0.00" stroke-width="5.0" stroke-dasharray="59.6 13.9 26.1 16.0" transform="rotate(252 409.2 67.3)"/>
<circle cx="412.3" cy="323.1" r="21.1" stroke-opacity="0.23" stroke-width="5.0"/>
<circle cx="412.3" cy="323.1" r="21.1" stroke-opacity="0.35" stroke-width="5.0" stroke-dasharray="50.5 8.7 30.6 11.9" transform="rotate(247 412.3 323.1)"/>
<circle cx="87.3" cy="219.2" r="13.4" stroke-opacity="0.23" stroke-width="5.0"/>
<circle cx="87.3" cy="219.2" r="13.4" stroke-opacity="0.35" stroke-width="5.0" stroke-dasharray="27.6 4.6 19.0 11.6" transform="rotate(273 87.3 219.2)"/>
<circle cx="266.2" cy="284.6" r="19.2" stroke-opacity="0.25" stroke-width="5.0"/>
<circle cx="266.2" cy="284.6" r="19.2" stroke-opacity="0.39" stroke-width="5.0" stroke-dasharray="55.1 15.3 27.2 7.0" transform="rotate(176 266.2 284.6)"/>
<circle cx="91.2" cy="90.4" r="30.7" stroke-opacity="0.00" stroke-width="5.0"/>
<circle cx="91.2" cy="90.4" r="30.7" stroke-opacity="0.00" stroke-width="5.0" stroke-dasharray="74.1 11.2 51.4 17.3" transform="rotate(86 91.2 90.4)"/>
<circle cx="145.0" cy="303.8" r="41.1" stroke-opacity="0.00" stroke-width="5.0"/>
<circle cx="145.0" cy="303.8" r="41.1" stroke-opacity="0.00" stroke-width="5.0" stroke-dasharray="89.8 31.3 40.9 23.3" transform="rotate(101 145.0 303.8)"/>
<circle cx="71.2" cy="326.9" r="21.1" stroke-opacity="0.00" stroke-width="5.0"/>
<circle cx="71.2" cy="326.9" r="21.1" stroke-opacity="0.00" stroke-width="5.0" stroke-dasharray="43.5 10.8 26.5 20.6" transform="rotate(180 71.2 326.9)"/>
<circle cx="335.0" cy="316.9" r="47.2" stroke-opacity="0.00" stroke-width="5.0"/>
<circle cx="335.0" cy="316.9" r="47.2" stroke-opacity="0.00" stroke-width="5.0" stroke-dasharray="131.3 16.4 68.0 34.2" transform="rotate(303 335.0 316.9)"/>
<circle cx="401.9" cy="288.1" r="32.6" stroke-opacity="0.00" stroke-width="5.0"/>
<circle cx="401.9" cy="288.1" r="32.6" stroke-opacity="0.00" stroke-width="5.0" stroke-dasharray="68.0 16.7 60.5 29.0" transform="rotate(82 401.9 288.1)"/>
<circle cx="377.7" cy="86.5" r="24.9" stroke-opacity="0.00" stroke-width="5.0"/>
<circle cx="377.7" cy="86.5" r="24.9" stroke-opacity="0.00" stroke-width="5.0" stroke-dasharray="65.0 17.1 35.4 19.8" transform="rotate(239 377.7 86.5)"/>
<circle cx="346.9" cy="34.6" r="21.1" stroke-opacity="0.00" stroke-width="5.0"/>
<circle cx="346.9" cy="34.6" r="21.1" stroke-opacity="0.00" stroke-width="5.0" stroke-dasharray="71.5 12.2 36.6 12.3" transform="rotate(264 346.9 34.6)"/>
</g></g>
<rect width="430" height="430" fill="#000" filter="url(#grain)" opacity="0.50"/>
</g>
</g>
</g>
<g transform="translate(865.0,8.5)" clip-path="url(#clipc)">
<rect width="430" height="430" fill="#000"/>

<g transform="translate(-4.0,0)">
<g mask="url(#silmask)">
<rect x="-10" width="450" height="430" fill="#00003c"/>
<circle cx="198.8" cy="96.2" r="22.2" fill="#000" fill-opacity="0.30" filter="url(#b5)"/>
<circle cx="116.2" cy="44.2" r="21.2" fill="#000" fill-opacity="0.30" filter="url(#b5)"/>
<circle cx="64.2" cy="107.7" r="18.6" fill="#000" fill-opacity="0.30" filter="url(#b5)"/>
<circle cx="223.8" cy="34.6" r="16.9" fill="#000" fill-opacity="0.30" filter="url(#b5)"/>
<circle cx="396.9" cy="42.3" r="20.1" fill="#000" fill-opacity="0.30" filter="url(#b5)"/>
<circle cx="316.2" cy="126.9" r="16.9" fill="#000" fill-opacity="0.30" filter="url(#b5)"/>
<circle cx="43.1" cy="330.8" r="21.2" fill="#000" fill-opacity="0.30" filter="url(#b5)"/>
<circle cx="139.2" cy="315.4" r="21.2" fill="#000" fill-opacity="0.30" filter="url(#b5)"/>
<circle cx="220.0" cy="330.8" r="16.9" fill="#000" fill-opacity="0.30" filter="url(#b5)"/>
<circle cx="308.5" cy="319.2" r="25.4" fill="#000" fill-opacity="0.30" filter="url(#b5)"/>
<circle cx="370.0" cy="292.3" r="19.0" fill="#000" fill-opacity="0.30" filter="url(#b5)"/>
<circle cx="91.2" cy="90.4" r="18.0" fill="#000" fill-opacity="0.30" filter="url(#b5)"/>
<circle cx="145.0" cy="303.8" r="23.7" fill="#000" fill-opacity="0.30" filter="url(#b5)"/>
<circle cx="335.0" cy="316.9" r="27.1" fill="#000" fill-opacity="0.30" filter="url(#b5)"/>
<circle cx="401.9" cy="288.1" r="19.0" fill="#000" fill-opacity="0.30" filter="url(#b5)"/>
<ellipse cx="330.0" cy="90.0" rx="75.0" ry="80.0" fill="#0000ff" fill-opacity="0.15" filter="url(#b9)"/><ellipse cx="100.0" cy="110.0" rx="70.0" ry="80.0" fill="#000" fill-opacity="0.20" filter="url(#b9)"/>
<rect width="430" height="430" fill="#1616ea" filter="url(#filC)" opacity="0.28"/>
<g filter="url(#wob)" opacity="0.90"><rect x="-20" y="-20" width="1" height="1" fill="#000"/><g fill="none" stroke="#1616ea" stroke-linecap="round">
<circle cx="198.8" cy="96.2" r="38.4" stroke-opacity="0.34" stroke-width="5.0"/>
<circle cx="198.8" cy="96.2" r="38.4" stroke-opacity="0.52" stroke-width="5.0" stroke-dasharray="93.5 23.5 63.4 16.3" transform="rotate(4 198.8 96.2)"/>
<circle cx="204.6" cy="155.8" r="21.1" stroke-opacity="0.45" stroke-width="5.0"/>
<circle cx="204.6" cy="155.8" r="21.1" stroke-opacity="0.70" stroke-width="5.0" stroke-dasharray="49.8 9.0 39.4 17.3" transform="rotate(217 204.6 155.8)"/>
<circle cx="112.3" cy="184.6" r="19.2" stroke-opacity="0.36" stroke-width="5.0"/>
<circle cx="112.3" cy="184.6" r="19.2" stroke-opacity="0.56" stroke-width="5.0" stroke-dasharray="51.8 12.3 22.8 12.5" transform="rotate(58 112.3 184.6)"/>
<circle cx="116.2" cy="44.2" r="36.5" stroke-opacity="0.18" stroke-width="5.0"/>
<circle cx="116.2" cy="44.2" r="36.5" stroke-opacity="0.28" stroke-width="5.0" stroke-dasharray="115.1 10.8 65.9 13.9" transform="rotate(247 116.2 44.2)"/>
<circle cx="64.2" cy="107.7" r="31.8" stroke-opacity="0.23" stroke-width="5.0"/>
<circle cx="64.2" cy="107.7" r="31.8" stroke-opacity="0.35" stroke-width="5.0" stroke-dasharray="71.1 15.4 58.8 11.0" transform="rotate(22 64.2 107.7)"/>
<circle cx="223.8" cy="34.6" r="28.8" stroke-opacity="0.20" stroke-width="5.0"/>
<circle cx="223.8" cy="34.6" r="28.8" stroke-opacity="0.32" stroke-width="5.0" stroke-dasharray="92.6 15.6 31.6 28.7" transform="rotate(341 223.8 34.6)"/>
<circle cx="270.0" cy="50.0" r="24.9" stroke-opacity="0.18" stroke-width="5.0"/>
<circle cx="270.0" cy="50.0" r="24.9" stroke-opacity="0.28" stroke-width="5.0" stroke-dasharray="47.0 12.5 28.8 13.7" transform="rotate(224 270.0 50.0)"/>
<circle cx="335.4" cy="69.2" r="24.9" stroke-opacity="0.38" stroke-width="5.0"/>
<circle cx="335.4" cy="69.2" r="24.9" stroke-opacity="0.59" stroke-width="5.0" stroke-dasharray="49.2 16.2 26.7 11.4" transform="rotate(294 335.4 69.2)"/>
<circle cx="396.9" cy="42.3" r="34.5" stroke-opacity="0.32" stroke-width="5.0"/>
<circle cx="396.9" cy="42.3" r="34.5" stroke-opacity="0.49" stroke-width="5.0" stroke-dasharray="80.4 16.9 55.0 22.4" transform="rotate(138 396.9 42.3)"/>
<circle cx="316.2" cy="126.9" r="28.8" stroke-opacity="0.41" stroke-width="5.0"/>
<circle cx="316.2" cy="126.9" r="28.8" stroke-opacity="0.63" stroke-width="5.0" stroke-dasharray="49.8 19.0 57.1 28.5" transform="rotate(239 316.2 126.9)"/>
<circle cx="373.8" cy="119.2" r="21.1" stroke-opacity="0.38" stroke-width="5.0"/>
<circle cx="373.8" cy="119.2" r="21.1" stroke-opacity="0.59" stroke-width="5.0" stroke-dasharray="49.2 10.0 36.8 17.0" transform="rotate(41 373.8 119.2)"/>
<circle cx="406.5" cy="165.4" r="21.1" stroke-opacity="0.32" stroke-width="5.0"/>
<circle cx="406.5" cy="165.4" r="21.1" stroke-opacity="0.49" stroke-width="5.0" stroke-dasharray="44.8 10.0 32.9 19.0" transform="rotate(180 406.5 165.4)"/>
<circle cx="258.5" cy="153.8" r="24.9" stroke-opacity="0.27" stroke-width="5.0"/>
<circle cx="258.5" cy="153.8" r="24.9" stroke-opacity="0.42" stroke-width="5.0" stroke-dasharray="43.5 17.9 36.3 17.2" transform="rotate(80 258.5 153.8)"/>
<circle cx="235.4" cy="248.1" r="24.9" stroke-opacity="0.38" stroke-width="5.0"/>
<circle cx="235.4" cy="248.1" r="24.9" stroke-opacity="0.59" stroke-width="5.0" stroke-dasharray="60.4 12.0 45.0 10.2" transform="rotate(198 235.4 248.1)"/>
<circle cx="173.8" cy="226.9" r="24.9" stroke-opacity="0.27" stroke-width="5.0"/>
<circle cx="173.8" cy="226.9" r="24.9" stroke-opacity="0.42" stroke-width="5.0" stroke-dasharray="49.8 16.2 26.3 13.1" transform="rotate(124 173.8 226.9)"/>
<circle cx="285.4" cy="223.1" r="24.9" stroke-opacity="0.27" stroke-width="5.0"/>
<circle cx="285.4" cy="223.1" r="24.9" stroke-opacity="0.42" stroke-width="5.0" stroke-dasharray="69.2 7.5 37.0 12.0" transform="rotate(101 285.4 223.1)"/>
<circle cx="43.1" cy="330.8" r="36.5" stroke-opacity="0.32" stroke-width="5.0"/>
<circle cx="43.1" cy="330.8" r="36.5" stroke-opacity="0.49" stroke-width="5.0" stroke-dasharray="89.2 28.2 53.7 35.2" transform="rotate(60 43.1 330.8)"/>
<circle cx="139.2" cy="315.4" r="36.5" stroke-opacity="0.34" stroke-width="5.0"/>
<circle cx="139.2" cy="315.4" r="36.5" stroke-opacity="0.52" stroke-width="5.0" stroke-dasharray="116.3 16.7 43.1 30.2" transform="rotate(328 139.2 315.4)"/>
<circle cx="220.0" cy="330.8" r="28.8" stroke-opacity="0.27" stroke-width="5.0"/>
<circle cx="220.0" cy="330.8" r="28.8" stroke-opacity="0.42" stroke-width="5.0" stroke-dasharray="48.7 11.9 51.3 16.3" transform="rotate(87 220.0 330.8)"/>
<circle cx="308.5" cy="319.2" r="44.2" stroke-opacity="0.32" stroke-width="5.0"/>
<circle cx="308.5" cy="319.2" r="44.2" stroke-opacity="0.49" stroke-width="5.0" stroke-dasharray="73.1 12.5 70.4 43.0" transform="rotate(359 308.5 319.2)"/>
<circle cx="370.0" cy="292.3" r="32.6" stroke-opacity="0.27" stroke-width="5.0"/>
<circle cx="370.0" cy="292.3" r="32.6" stroke-opacity="0.42" stroke-width="5.0" stroke-dasharray="81.8 9.1 43.1 28.0" transform="rotate(300 370.0 292.3)"/>
<circle cx="410.4" cy="253.8" r="21.1" stroke-opacity="0.29" stroke-width="5.0"/>
<circle cx="410.4" cy="253.8" r="21.1" stroke-opacity="0.45" stroke-width="5.0" stroke-dasharray="59.4 8.5 33.2 14.2" transform="rotate(226 410.4 253.8)"/>
<circle cx="181.5" cy="378.8" r="21.1" stroke-opacity="0.27" stroke-width="5.0"/>
<circle cx="181.5" cy="378.8" r="21.1" stroke-opacity="0.42" stroke-width="5.0" stroke-dasharray="45.8 16.8 41.2 9.6" transform="rotate(105 181.5 378.8)"/>
<circle cx="243.1" cy="390.4" r="19.2" stroke-opacity="0.29" stroke-width="5.0"/>
<circle cx="243.1" cy="390.4" r="19.2" stroke-opacity="0.45" stroke-width="5.0" stroke-dasharray="62.2 8.3 38.8 13.5" transform="rotate(251 243.1 390.4)"/>
<circle cx="323.8" cy="367.3" r="17.2" stroke-opacity="0.34" stroke-width="5.0"/>
<circle cx="323.8" cy="367.3" r="17.2" stroke-opacity="0.52" stroke-width="5.0" stroke-dasharray="51.5 6.9 23.3 9.1" transform="rotate(246 323.8 367.3)"/>
<circle cx="56.5" cy="394.2" r="21.1" stroke-opacity="0.18" stroke-width="5.0"/>
<circle cx="56.5" cy="394.2" r="21.1" stroke-opacity="0.28" stroke-width="5.0" stroke-dasharray="61.4 7.3 41.0 13.3" transform="rotate(87 56.5 394.2)"/>
<circle cx="410.4" cy="386.5" r="21.1" stroke-opacity="0.27" stroke-width="5.0"/>
<circle cx="410.4" cy="386.5" r="21.1" stroke-opacity="0.42" stroke-width="5.0" stroke-dasharray="52.0 17.2 33.9 16.3" transform="rotate(331 410.4 386.5)"/>
<circle cx="104.6" cy="257.7" r="21.1" stroke-opacity="0.25" stroke-width="5.0"/>
<circle cx="104.6" cy="257.7" r="21.1" stroke-opacity="0.39" stroke-width="5.0" stroke-dasharray="71.1 14.6 30.8 15.8" transform="rotate(324 104.6 257.7)"/>
<circle cx="150.8" cy="269.2" r="17.2" stroke-opacity="0.25" stroke-width="5.0"/>
<circle cx="150.8" cy="269.2" r="17.2" stroke-opacity="0.39" stroke-width="5.0" stroke-dasharray="54.0 10.4 24.4 10.5" transform="rotate(265 150.8 269.2)"/>
<circle cx="358.5" cy="253.8" r="19.2" stroke-opacity="0.27" stroke-width="5.0"/>
<circle cx="358.5" cy="253.8" r="19.2" stroke-opacity="0.42" stroke-width="5.0" stroke-dasharray="51.9 5.5 34.1 18.7" transform="rotate(287 358.5 253.8)"/>
<circle cx="162.3" cy="28.8" r="21.1" stroke-opacity="0.18" stroke-width="5.0"/>
<circle cx="162.3" cy="28.8" r="21.1" stroke-opacity="0.28" stroke-width="5.0" stroke-dasharray="68.8 16.4 33.4 18.7" transform="rotate(137 162.3 28.8)"/>
<circle cx="412.3" cy="107.7" r="19.2" stroke-opacity="0.32" stroke-width="5.0"/>
<circle cx="412.3" cy="107.7" r="19.2" stroke-opacity="0.49" stroke-width="5.0" stroke-dasharray="36.5 9.1 26.2 19.1" transform="rotate(248 412.3 107.7)"/>
<circle cx="409.2" cy="67.3" r="22.6" stroke-opacity="0.00" stroke-width="5.0"/>
<circle cx="409.2" cy="67.3" r="22.6" stroke-opacity="0.00" stroke-width="5.0" stroke-dasharray="59.6 13.9 26.1 16.0" transform="rotate(252 409.2 67.3)"/>
<circle cx="412.3" cy="323.1" r="21.1" stroke-opacity="0.23" stroke-width="5.0"/>
<circle cx="412.3" cy="323.1" r="21.1" stroke-opacity="0.35" stroke-width="5.0" stroke-dasharray="50.5 8.7 30.6 11.9" transform="rotate(247 412.3 323.1)"/>
<circle cx="87.3" cy="219.2" r="13.4" stroke-opacity="0.23" stroke-width="5.0"/>
<circle cx="87.3" cy="219.2" r="13.4" stroke-opacity="0.35" stroke-width="5.0" stroke-dasharray="27.6 4.6 19.0 11.6" transform="rotate(273 87.3 219.2)"/>
<circle cx="266.2" cy="284.6" r="19.2" stroke-opacity="0.25" stroke-width="5.0"/>
<circle cx="266.2" cy="284.6" r="19.2" stroke-opacity="0.39" stroke-width="5.0" stroke-dasharray="55.1 15.3 27.2 7.0" transform="rotate(176 266.2 284.6)"/>
<circle cx="91.2" cy="90.4" r="30.7" stroke-opacity="0.00" stroke-width="5.0"/>
<circle cx="91.2" cy="90.4" r="30.7" stroke-opacity="0.00" stroke-width="5.0" stroke-dasharray="74.1 11.2 51.4 17.3" transform="rotate(86 91.2 90.4)"/>
<circle cx="145.0" cy="303.8" r="41.1" stroke-opacity="0.00" stroke-width="5.0"/>
<circle cx="145.0" cy="303.8" r="41.1" stroke-opacity="0.00" stroke-width="5.0" stroke-dasharray="89.8 31.3 40.9 23.3" transform="rotate(101 145.0 303.8)"/>
<circle cx="71.2" cy="326.9" r="21.1" stroke-opacity="0.00" stroke-width="5.0"/>
<circle cx="71.2" cy="326.9" r="21.1" stroke-opacity="0.00" stroke-width="5.0" stroke-dasharray="43.5 10.8 26.5 20.6" transform="rotate(180 71.2 326.9)"/>
<circle cx="335.0" cy="316.9" r="47.2" stroke-opacity="0.00" stroke-width="5.0"/>
<circle cx="335.0" cy="316.9" r="47.2" stroke-opacity="0.00" stroke-width="5.0" stroke-dasharray="131.3 16.4 68.0 34.2" transform="rotate(303 335.0 316.9)"/>
<circle cx="401.9" cy="288.1" r="32.6" stroke-opacity="0.00" stroke-width="5.0"/>
<circle cx="401.9" cy="288.1" r="32.6" stroke-opacity="0.00" stroke-width="5.0" stroke-dasharray="68.0 16.7 60.5 29.0" transform="rotate(82 401.9 288.1)"/>
<circle cx="377.7" cy="86.5" r="24.9" stroke-opacity="0.00" stroke-width="5.0"/>
<circle cx="377.7" cy="86.5" r="24.9" stroke-opacity="0.00" stroke-width="5.0" stroke-dasharray="65.0 17.1 35.4 19.8" transform="rotate(239 377.7 86.5)"/>
<circle cx="346.9" cy="34.6" r="21.1" stroke-opacity="0.00" stroke-width="5.0"/>
<circle cx="346.9" cy="34.6" r="21.1" stroke-opacity="0.00" stroke-width="5.0" stroke-dasharray="71.5 12.2 36.6 12.3" transform="rotate(264 346.9 34.6)"/>
</g></g>
<rect width="430" height="430" fill="#000" filter="url(#grain)" opacity="0.50"/>
</g>
</g>
</g>
<g transform="translate(1296.0,7.2)" clip-path="url(#clipd)">
<rect width="430" height="430" fill="#000"/>
<polygon points="0,255 60,275 150,330 260,430 0,430" fill="#1e1e00" filter="url(#b5)"/>
<g transform="translate(0.0,0)">
<g mask="url(#silmask)">
<rect x="-10" width="450" height="430" fill="#3c3c00"/>
<circle cx="198.8" cy="96.2" r="22.2" fill="#000" fill-opacity="0.30" filter="url(#b5)"/>
<circle cx="116.2" cy="44.2" r="21.2" fill="#000" fill-opacity="0.30" filter="url(#b5)"/>
<circle cx="64.2" cy="107.7" r="18.6" fill="#000" fill-opacity="0.30" filter="url(#b5)"/>
<circle cx="223.8" cy="34.6" r="16.9" fill="#000" fill-opacity="0.30" filter="url(#b5)"/>
<circle cx="396.9" cy="42.3" r="20.1" fill="#000" fill-opacity="0.30" filter="url(#b5)"/>
<circle cx="316.2" cy="126.9" r="16.9" fill="#000" fill-opacity="0.30" filter="url(#b5)"/>
<circle cx="43.1" cy="330.8" r="21.2" fill="#000" fill-opacity="0.30" filter="url(#b5)"/>
<circle cx="139.2" cy="315.4" r="21.2" fill="#000" fill-opacity="0.30" filter="url(#b5)"/>
<circle cx="220.0" cy="330.8" r="16.9" fill="#000" fill-opacity="0.30" filter="url(#b5)"/>
<circle cx="308.5" cy="319.2" r="25.4" fill="#000" fill-opacity="0.30" filter="url(#b5)"/>
<circle cx="370.0" cy="292.3" r="19.0" fill="#000" fill-opacity="0.30" filter="url(#b5)"/>
<circle cx="91.2" cy="90.4" r="18.0" fill="#000" fill-opacity="0.30" filter="url(#b5)"/>
<circle cx="145.0" cy="303.8" r="23.7" fill="#000" fill-opacity="0.30" filter="url(#b5)"/>
<circle cx="335.0" cy="316.9" r="27.1" fill="#000" fill-opacity="0.30" filter="url(#b5)"/>
<circle cx="401.9" cy="288.1" r="19.0" fill="#000" fill-opacity="0.30" filter="url(#b5)"/>
<ellipse cx="340.0" cy="95.0" rx="75.0" ry="85.0" fill="#ffff00" fill-opacity="0.15" filter="url(#b9)"/><ellipse cx="200.0" cy="60.0" rx="60.0" ry="45.0" fill="#000" fill-opacity="0.20" filter="url(#b9)"/>
<rect width="430" height="430" fill="#f0f01c" filter="url(#filD)" opacity="0.30"/>
<g filter="url(#wob)" opacity="1.00"><rect x="-20" y="-20" width="1" height="1" fill="#000"/><g fill="none" stroke="#f0f01c" stroke-linecap="round">
<circle cx="198.8" cy="96.2" r="38.4" stroke-opacity="0.34" stroke-width="5.0"/>
<circle cx="198.8" cy="96.2" r="38.4" stroke-opacity="0.52" stroke-width="5.0" stroke-dasharray="93.5 23.5 63.4 16.3" transform="rotate(4 198.8 96.2)"/>
<circle cx="204.6" cy="155.8" r="21.1" stroke-opacity="0.45" stroke-width="5.0"/>
<circle cx="204.6" cy="155.8" r="21.1" stroke-opacity="0.70" stroke-width="5.0" stroke-dasharray="49.8 9.0 39.4 17.3" transform="rotate(217 204.6 155.8)"/>
<circle cx="112.3" cy="184.6" r="19.2" stroke-opacity="0.36" stroke-width="5.0"/>
<circle cx="112.3" cy="184.6" r="19.2" stroke-opacity="0.56" stroke-width="5.0" stroke-dasharray="51.8 12.3 22.8 12.5" transform="rotate(58 112.3 184.6)"/>
<circle cx="116.2" cy="44.2" r="36.5" stroke-opacity="0.18" stroke-width="5.0"/>
<circle cx="116.2" cy="44.2" r="36.5" stroke-opacity="0.28" stroke-width="5.0" stroke-dasharray="115.1 10.8 65.9 13.9" transform="rotate(247 116.2 44.2)"/>
<circle cx="64.2" cy="107.7" r="31.8" stroke-opacity="0.23" stroke-width="5.0"/>
<circle cx="64.2" cy="107.7" r="31.8" stroke-opacity="0.35" stroke-width="5.0" stroke-dasharray="71.1 15.4 58.8 11.0" transform="rotate(22 64.2 107.7)"/>
<circle cx="223.8" cy="34.6" r="28.8" stroke-opacity="0.20" stroke-width="5.0"/>
<circle cx="223.8" cy="34.6" r="28.8" stroke-opacity="0.32" stroke-width="5.0" stroke-dasharray="92.6 15.6 31.6 28.7" transform="rotate(341 223.8 34.6)"/>
<circle cx="270.0" cy="50.0" r="24.9" stroke-opacity="0.18" stroke-width="5.0"/>
<circle cx="270.0" cy="50.0" r="24.9" stroke-opacity="0.28" stroke-width="5.0" stroke-dasharray="47.0 12.5 28.8 13.7" transform="rotate(224 270.0 50.0)"/>
<circle cx="335.4" cy="69.2" r="24.9" stroke-opacity="0.38" stroke-width="5.0"/>
<circle cx="335.4" cy="69.2" r="24.9" stroke-opacity="0.59" stroke-width="5.0" stroke-dasharray="49.2 16.2 26.7 11.4" transform="rotate(294 335.4 69.2)"/>
<circle cx="396.9" cy="42.3" r="34.5" stroke-opacity="0.32" stroke-width="5.0"/>
<circle cx="396.9" cy="42.3" r="34.5" stroke-opacity="0.49" stroke-width="5.0" stroke-dasharray="80.4 16.9 55.0 22.4" transform="rotate(138 396.9 42.3)"/>
<circle cx="316.2" cy="126.9" r="28.8" stroke-opacity="0.41" stroke-width="5.0"/>
<circle cx="316.2" cy="126.9" r="28.8" stroke-opacity="0.63" stroke-width="5.0" stroke-dasharray="49.8 19.0 57.1 28.5" transform="rotate(239 316.2 126.9)"/>
<circle cx="373.8" cy="119.2" r="21.1" stroke-opacity="0.38" stroke-width="5.0"/>
<circle cx="373.8" cy="119.2" r="21.1" stroke-opacity="0.59" stroke-width="5.0" stroke-dasharray="49.2 10.0 36.8 17.0" transform="rotate(41 373.8 119.2)"/>
<circle cx="406.5" cy="165.4" r="21.1" stroke-opacity="0.32" stroke-width="5.0"/>
<circle cx="406.5" cy="165.4" r="21.1" stroke-opacity="0.49" stroke-width="5.0" stroke-dasharray="44.8 10.0 32.9 19.0" transform="rotate(180 406.5 165.4)"/>
<circle cx="258.5" cy="153.8" r="24.9" stroke-opacity="0.27" stroke-width="5.0"/>
<circle cx="258.5" cy="153.8" r="24.9" stroke-opacity="0.42" stroke-width="5.0" stroke-dasharray="43.5 17.9 36.3 17.2" transform="rotate(80 258.5 153.8)"/>
<circle cx="235.4" cy="248.1" r="24.9" stroke-opacity="0.38" stroke-width="5.0"/>
<circle cx="235.4" cy="248.1" r="24.9" stroke-opacity="0.59" stroke-width="5.0" stroke-dasharray="60.4 12.0 45.0 10.2" transform="rotate(198 235.4 248.1)"/>
<circle cx="173.8" cy="226.9" r="24.9" stroke-opacity="0.27" stroke-width="5.0"/>
<circle cx="173.8" cy="226.9" r="24.9" stroke-opacity="0.42" stroke-width="5.0" stroke-dasharray="49.8 16.2 26.3 13.1" transform="rotate(124 173.8 226.9)"/>
<circle cx="285.4" cy="223.1" r="24.9" stroke-opacity="0.27" stroke-width="5.0"/>
<circle cx="285.4" cy="223.1" r="24.9" stroke-opacity="0.42" stroke-width="5.0" stroke-dasharray="69.2 7.5 37.0 12.0" transform="rotate(101 285.4 223.1)"/>
<circle cx="43.1" cy="330.8" r="36.5" stroke-opacity="0.32" stroke-width="5.0"/>
<circle cx="43.1" cy="330.8" r="36.5" stroke-opacity="0.49" stroke-width="5.0" stroke-dasharray="89.2 28.2 53.7 35.2" transform="rotate(60 43.1 330.8)"/>
<circle cx="139.2" cy="315.4" r="36.5" stroke-opacity="0.34" stroke-width="5.0"/>
<circle cx="139.2" cy="315.4" r="36.5" stroke-opacity="0.52" stroke-width="5.0" stroke-dasharray="116.3 16.7 43.1 30.2" transform="rotate(328 139.2 315.4)"/>
<circle cx="220.0" cy="330.8" r="28.8" stroke-opacity="0.27" stroke-width="5.0"/>
<circle cx="220.0" cy="330.8" r="28.8" stroke-opacity="0.42" stroke-width="5.0" stroke-dasharray="48.7 11.9 51.3 16.3" transform="rotate(87 220.0 330.8)"/>
<circle cx="308.5" cy="319.2" r="44.2" stroke-opacity="0.32" stroke-width="5.0"/>
<circle cx="308.5" cy="319.2" r="44.2" stroke-opacity="0.49" stroke-width="5.0" stroke-dasharray="73.1 12.5 70.4 43.0" transform="rotate(359 308.5 319.2)"/>
<circle cx="370.0" cy="292.3" r="32.6" stroke-opacity="0.27" stroke-width="5.0"/>
<circle cx="370.0" cy="292.3" r="32.6" stroke-opacity="0.42" stroke-width="5.0" stroke-dasharray="81.8 9.1 43.1 28.0" transform="rotate(300 370.0 292.3)"/>
<circle cx="410.4" cy="253.8" r="21.1" stroke-opacity="0.29" stroke-width="5.0"/>
<circle cx="410.4" cy="253.8" r="21.1" stroke-opacity="0.45" stroke-width="5.0" stroke-dasharray="59.4 8.5 33.2 14.2" transform="rotate(226 410.4 253.8)"/>
<circle cx="181.5" cy="378.8" r="21.1" stroke-opacity="0.27" stroke-width="5.0"/>
<circle cx="181.5" cy="378.8" r="21.1" stroke-opacity="0.42" stroke-width="5.0" stroke-dasharray="45.8 16.8 41.2 9.6" transform="rotate(105 181.5 378.8)"/>
<circle cx="243.1" cy="390.4" r="19.2" stroke-opacity="0.29" stroke-width="5.0"/>
<circle cx="243.1" cy="390.4" r="19.2" stroke-opacity="0.45" stroke-width="5.0" stroke-dasharray="62.2 8.3 38.8 13.5" transform="rotate(251 243.1 390.4)"/>
<circle cx="323.8" cy="367.3" r="17.2" stroke-opacity="0.34" stroke-width="5.0"/>
<circle cx="323.8" cy="367.3" r="17.2" stroke-opacity="0.52" stroke-width="5.0" stroke-dasharray="51.5 6.9 23.3 9.1" transform="rotate(246 323.8 367.3)"/>
<circle cx="56.5" cy="394.2" r="21.1" stroke-opacity="0.18" stroke-width="5.0"/>
<circle cx="56.5" cy="394.2" r="21.1" stroke-opacity="0.28" stroke-width="5.0" stroke-dasharray="61.4 7.3 41.0 13.3" transform="rotate(87 56.5 394.2)"/>
<circle cx="410.4" cy="386.5" r="21.1" stroke-opacity="0.27" stroke-width="5.0"/>
<circle cx="410.4" cy="386.5" r="21.1" stroke-opacity="0.42" stroke-width="5.0" stroke-dasharray="52.0 17.2 33.9 16.3" transform="rotate(331 410.4 386.5)"/>
<circle cx="104.6" cy="257.7" r="21.1" stroke-opacity="0.25" stroke-width="5.0"/>
<circle cx="104.6" cy="257.7" r="21.1" stroke-opacity="0.39" stroke-width="5.0" stroke-dasharray="71.1 14.6 30.8 15.8" transform="rotate(324 104.6 257.7)"/>
<circle cx="150.8" cy="269.2" r="17.2" stroke-opacity="0.25" stroke-width="5.0"/>
<circle cx="150.8" cy="269.2" r="17.2" stroke-opacity="0.39" stroke-width="5.0" stroke-dasharray="54.0 10.4 24.4 10.5" transform="rotate(265 150.8 269.2)"/>
<circle cx="358.5" cy="253.8" r="19.2" stroke-opacity="0.27" stroke-width="5.0"/>
<circle cx="358.5" cy="253.8" r="19.2" stroke-opacity="0.42" stroke-width="5.0" stroke-dasharray="51.9 5.5 34.1 18.7" transform="rotate(287 358.5 253.8)"/>
<circle cx="162.3" cy="28.8" r="21.1" stroke-opacity="0.18" stroke-width="5.0"/>
<circle cx="162.3" cy="28.8" r="21.1" stroke-opacity="0.28" stroke-width="5.0" stroke-dasharray="68.8 16.4 33.4 18.7" transform="rotate(137 162.3 28.8)"/>
<circle cx="412.3" cy="107.7" r="19.2" stroke-opacity="0.32" stroke-width="5.0"/>
<circle cx="412.3" cy="107.7" r="19.2" stroke-opacity="0.49" stroke-width="5.0" stroke-dasharray="36.5 9.1 26.2 19.1" transform="rotate(248 412.3 107.7)"/>
<circle cx="409.2" cy="67.3" r="22.6" stroke-opacity="0.00" stroke-width="5.0"/>
<circle cx="409.2" cy="67.3" r="22.6" stroke-opacity="0.00" stroke-width="5.0" stroke-dasharray="59.6 13.9 26.1 16.0" transform="rotate(252 409.2 67.3)"/>
<circle cx="412.3" cy="323.1" r="21.1" stroke-opacity="0.23" stroke-width="5.0"/>
<circle cx="412.3" cy="323.1" r="21.1" stroke-opacity="0.35" stroke-width="5.0" stroke-dasharray="50.5 8.7 30.6 11.9" transform="rotate(247 412.3 323.1)"/>
<circle cx="87.3" cy="219.2" r="13.4" stroke-opacity="0.23" stroke-width="5.0"/>
<circle cx="87.3" cy="219.2" r="13.4" stroke-opacity="0.35" stroke-width="5.0" stroke-dasharray="27.6 4.6 19.0 11.6" transform="rotate(273 87.3 219.2)"/>
<circle cx="266.2" cy="284.6" r="19.2" stroke-opacity="0.25" stroke-width="5.0"/>
<circle cx="266.2" cy="284.6" r="19.2" stroke-opacity="0.39" stroke-width="5.0" stroke-dasharray="55.1 15.3 27.2 7.0" transform="rotate(176 266.2 284.6)"/>
<circle cx="91.2" cy="90.4" r="30.7" stroke-opacity="0.00" stroke-width="5.0"/>
<circle cx="91.2" cy="90.4" r="30.7" stroke-opacity="0.00" stroke-width="5.0" stroke-dasharray="74.1 11.2 51.4 17.3" transform="rotate(86 91.2 90.4)"/>
<circle cx="145.0" cy="303.8" r="41.1" stroke-opacity="0.00" stroke-width="5.0"/>
<circle cx="145.0" cy="303.8" r="41.1" stroke-opacity="0.00" stroke-width="5.0" stroke-dasharray="89.8 31.3 40.9 23.3" transform="rotate(101 145.0 303.8)"/>
<circle cx="71.2" cy="326.9" r="21.1" stroke-opacity="0.00" stroke-width="5.0"/>
<circle cx="71.2" cy="326.9" r="21.1" stroke-opacity="0.00" stroke-width="5.0" stroke-dasharray="43.5 10.8 26.5 20.6" transform="rotate(180 71.2 326.9)"/>
<circle cx="335.0" cy="316.9" r="47.2" stroke-opacity="0.00" stroke-width="5.0"/>
<circle cx="335.0" cy="316.9" r="47.2" stroke-opacity="0.00" stroke-width="5.0" stroke-dasharray="131.3 16.4 68.0 34.2" transform="rotate(303 335.0 316.9)"/>
<circle cx="401.9" cy="288.1" r="32.6" stroke-opacity="0.00" stroke-width="5.0"/>
<circle cx="401.9" cy="288.1" r="32.6" stroke-opacity="0.00" stroke-width="5.0" stroke-dasharray="68.0 16.7 60.5 29.0" transform="rotate(82 401.9 288.1)"/>
<circle cx="377.7" cy="86.5" r="24.9" stroke-opacity="0.00" stroke-width="5.0"/>
<circle cx="377.7" cy="86.5" r="24.9" stroke-opacity="0.00" stroke-width="5.0" stroke-dasharray="65.0 17.1 35.4 19.8" transform="rotate(239 377.7 86.5)"/>
<circle cx="346.9" cy="34.6" r="21.1" stroke-opacity="0.00" stroke-width="5.0"/>
<circle cx="346.9" cy="34.6" r="21.1" stroke-opacity="0.00" stroke-width="5.0" stroke-dasharray="71.5 12.2 36.6 12.3" transform="rotate(264 346.9 34.6)"/>
</g></g>
<rect width="430" height="430" fill="#000" filter="url(#grain)" opacity="0.50"/>
</g>
</g>
</g>
<rect x="5.2" y="5.8" width="65" height="58.4" fill="#000"/>
<rect x="436.8" y="7" width="70" height="62" fill="#000"/>
<rect x="865" y="8.5" width="70" height="62" fill="#000"/>
<rect x="1296" y="7.2" width="75.5" height="63.8" fill="#000"/>
<text x="9.8" y="47.3" font-family="'Liberation Serif', serif" font-size="51" fill="#fff">(a)</text>
<text x="443.0" y="50.0" font-family="'Liberation Serif', serif" font-size="51" fill="#fff">(b)</text>
<text x="875.5" y="51.0" font-family="'Liberation Serif', serif" font-size="51" fill="#fff">(c)</text>
<text x="1305.1" y="53.1" font-family="'Liberation Serif', serif" font-size="51" fill="#fff">(d)</text>
<rect x="3.1" y="360.3" width="104.6" height="39.8" fill="#000"/>
<rect x="872" y="359.8" width="96" height="34.5" fill="#000"/>
<rect x="1296.3" y="359.8" width="103.9" height="38.3" fill="#000"/>
<text x="3.5" y="385.6" font-family="'Liberation Sans', sans-serif" font-size="28" fill="#fff" textLength="95" lengthAdjust="spacingAndGlyphs">100 nm</text>
<rect x="11.8" y="390.0" width="69.9" height="6.2" fill="#fff"/>
<text x="443.1" y="383.7" font-family="'Liberation Sans', sans-serif" font-size="28" fill="#fff" textLength="95" lengthAdjust="spacingAndGlyphs">100 nm</text>
<rect x="452.3" y="389.8" width="69.9" height="6.2" fill="#fff"/>
<text x="874.9" y="380.7" font-family="'Liberation Sans', sans-serif" font-size="28" fill="#fff" textLength="95" lengthAdjust="spacingAndGlyphs">100 nm</text>
<rect x="882.7" y="385.6" width="69.9" height="6.2" fill="#fff"/>
<text x="1303.3" y="382.4" font-family="'Liberation Sans', sans-serif" font-size="28" fill="#fff" textLength="95" lengthAdjust="spacingAndGlyphs">100 nm</text>
<rect x="1311.8" y="389.7" width="69.9" height="6.2" fill="#fff"/>
<text x="789.3" y="54.5" font-family="'Liberation Sans', sans-serif" font-size="57" fill="#fa1a22" textLength="57" lengthAdjust="spacingAndGlyphs">Fe</text>
<text x="1191.5" y="63.8" font-family="'Liberation Sans', sans-serif" font-size="55" fill="#1c1cff" textLength="86" lengthAdjust="spacingAndGlyphs">Mn</text>
<text x="1669.0" y="54.0" font-family="'Liberation Sans', sans-serif" font-size="59" fill="#f4f418">O</text>
<g id="chart">
<line x1="486" x2="1330" y1="626.2" y2="626.2" stroke="#c9c9c9" stroke-width="1.6"/>
<line x1="486" x2="1330" y1="960.8" y2="960.8" stroke="#c9c9c9" stroke-width="1.6"/>
<polygon points="486.5,736.4 515.5,709.0 538.0,686.0 561.0,668.0 572.3,641.0 580.2,624.5 582.2,627.0 582.6,679.5 606.4,677.7 612.0,675.5 624.5,674.5 629.0,677.0 658.6,679.5 663.0,683.6 690.0,681.2 741.7,679.3 793.3,680.3 835.4,685.0 919.6,687.0 1010.0,687.9 1038.7,689.8 1040.2,697.5 1077.0,695.6 1143.9,697.5 1247.2,701.3 1249.0,703.6 1258.7,701.3 1326.5,702.3 1326.5,987.5 1249.1,983.5 1247.2,976.4 1245.3,983.3 1201.3,983.1 1143.9,981.4 1101.8,980.8 1067.4,981.2 1044.4,978.0 1039.7,970.7 1038.7,981.5 1020.0,982.2 957.8,979.3 900.4,975.5 835.4,969.9 834.4,961.0 833.5,969.7 766.5,965.0 700.0,961.7 627.9,953.4 626.6,946.0 625.1,953.4 598.5,954.3 582.0,956.2 579.2,960.8 571.0,949.0 563.6,937.0 552.6,929.6 525.0,931.4 512.2,935.0 500.0,927.0 486.5,913.0" fill="rgb(220,20,60)" fill-opacity="0.5"/>
<polygon points="486.5,681.8 490.5,659.0 493.0,630.0 495.0,609.0 498.4,608.6 504.0,616.0 505.2,645.0 506.4,677.0 509.8,679.5 514.3,700.0 524.5,697.7 545.0,679.5 550.0,672.0 553.0,659.0 554.2,630.0 555.2,604.5 557.0,591.0 559.0,591.0 559.7,650.0 560.2,708.0 570.0,706.3 579.0,707.0 606.4,711.0 608.3,707.0 609.0,695.5 612.0,695.5 613.3,710.0 614.3,719.0 640.5,725.0 663.0,728.4 690.0,728.1 741.7,725.2 749.3,732.9 785.7,733.8 843.0,728.1 911.9,727.1 929.1,731.0 977.0,727.1 1029.0,724.3 1048.3,719.5 1105.7,719.5 1117.1,715.7 1134.4,721.4 1163.0,724.3 1230.0,725.2 1249.1,719.5 1255.8,715.7 1262.5,718.5 1297.0,719.5 1326.5,715.7 1326.5,966.9 1163.0,957.3 1010.0,948.7 881.3,943.9 766.5,939.1 700.0,936.9 614.1,935.0 612.3,950.0 610.4,962.6 609.0,950.0 607.7,940.6 572.8,938.7 560.4,935.0 559.4,1000.0 558.1,1056.2 555.0,1040.0 552.6,1026.8 550.6,990.0 548.9,964.4 543.4,953.4 525.0,942.4 511.3,936.9 510.3,950.0 509.5,953.4 506.7,944.2 495.7,944.2 493.9,925.9 486.5,913.0" fill="rgb(68,248,178)" fill-opacity="0.6"/>
<polygon points="486.5,560.0 487.5,540.0 489.3,524.5 490.5,545.0 492.7,565.9 497.3,573.9 503.0,571.0 510.9,567.0 517.7,569.3 519.5,571.0 520.5,581.8 521.6,571.0 522.7,569.3 530.2,573.9 532.4,577.0 533.2,585.0 534.3,579.0 535.9,578.4 549.5,593.2 560.9,606.8 572.3,618.2 582.5,623.9 592.7,639.8 606.4,644.3 629.0,650.0 651.8,653.4 688.0,657.5 690.0,661.0 692.0,663.6 743.6,665.0 747.4,666.9 748.4,674.5 793.3,676.8 801.0,679.3 881.3,682.2 1010.0,682.6 1034.9,682.2 1040.0,685.0 1045.0,682.0 1050.0,686.0 1055.9,686.0 1061.0,682.0 1067.4,682.8 1080.0,685.0 1086.0,682.5 1105.7,686.0 1136.3,684.1 1150.0,680.5 1163.0,677.4 1170.0,675.0 1176.0,676.5 1185.0,673.5 1193.0,674.5 1201.3,672.6 1210.0,669.0 1220.4,665.0 1228.0,663.8 1235.0,661.0 1239.6,660.2 1244.0,657.0 1247.2,652.5 1249.5,647.0 1251.0,641.0 1252.2,630.0 1253.2,615.0 1254.5,580.0 1256.0,545.0 1258.2,514.8 1325.7,514.8 1325.7,1072.0 1262.3,1072.0 1261.6,1065.4 1260.3,1055.0 1258.7,1046.3 1254.9,1031.0 1251.0,1022.0 1247.2,1015.7 1243.0,1011.0 1239.6,1008.0 1231.9,1008.5 1226.0,1006.0 1220.4,1004.2 1210.0,1000.5 1201.3,996.5 1190.0,994.5 1180.0,991.5 1163.0,987.9 1143.9,984.1 1092.3,981.8 1067.4,982.2 1050.0,982.2 1044.4,979.4 1041.5,978.0 1039.7,971.7 1038.7,983.1 1010.0,982.6 881.3,982.6 804.8,983.4 781.8,986.0 747.4,986.3 746.4,994.6 724.4,997.5 692.0,994.5 690.3,992.9 689.3,1000.2 635.2,1002.0 605.8,1005.7 596.6,999.3 592.1,1002.0 591.1,1009.4 584.7,1014.0 583.8,1018.6 558.1,1026.8 548.9,1033.3 526.9,1039.7 521.4,1033.3 517.0,1037.0 512.2,1037.9 508.5,1047.0 506.5,1046.0 504.0,1040.6 500.3,1048.9 498.5,1063.5 497.2,1052.0 494.8,1041.5 492.5,1010.0 491.0,960.0 489.3,1043.4 488.0,1000.0 486.5,915.0" fill="rgb(117,105,111)" fill-opacity="0.5"/>
<polyline points="486.5,560.0 487.5,540.0 489.3,524.5 490.5,545.0 492.7,565.9 497.3,573.9 503.0,571.0 510.9,567.0 517.7,569.3 519.5,571.0 520.5,581.8 521.6,571.0 522.7,569.3 530.2,573.9 532.4,577.0 533.2,585.0 534.3,579.0 535.9,578.4 549.5,593.2 560.9,606.8 572.3,618.2 582.5,623.9 592.7,639.8 606.4,644.3 629.0,650.0 651.8,653.4 688.0,657.5 690.0,661.0 692.0,663.6 743.6,665.0 747.4,666.9 748.4,674.5 793.3,676.8 801.0,679.3 881.3,682.2 1010.0,682.6 1034.9,682.2 1040.0,685.0 1045.0,682.0 1050.0,686.0 1055.9,686.0 1061.0,682.0 1067.4,682.8 1080.0,685.0 1086.0,682.5 1105.7,686.0 1136.3,684.1 1150.0,680.5 1163.0,677.4 1170.0,675.0 1176.0,676.5 1185.0,673.5 1193.0,674.5 1201.3,672.6 1210.0,669.0 1220.4,665.0 1228.0,663.8 1235.0,661.0 1239.6,660.2 1244.0,657.0 1247.2,652.5 1249.5,647.0 1251.0,641.0 1252.2,630.0 1253.2,615.0 1254.5,580.0 1256.0,545.0 1258.2,514.8" fill="none" stroke="rgb(125,120,123)" stroke-width="2.6" stroke-linejoin="round"/>
<polyline points="1262.3,1072.0 1261.6,1065.4 1260.3,1055.0 1258.7,1046.3 1254.9,1031.0 1251.0,1022.0 1247.2,1015.7 1243.0,1011.0 1239.6,1008.0 1231.9,1008.5 1226.0,1006.0 1220.4,1004.2 1210.0,1000.5 1201.3,996.5 1190.0,994.5 1180.0,991.5 1163.0,987.9 1143.9,984.1 1092.3,981.8 1067.4,982.2 1050.0,982.2 1044.4,979.4 1041.5,978.0 1039.7,971.7 1038.7,983.1 1010.0,982.6 881.3,982.6 804.8,983.4 781.8,986.0 747.4,986.3 746.4,994.6 724.4,997.5 692.0,994.5 690.3,992.9 689.3,1000.2 635.2,1002.0 605.8,1005.7 596.6,999.3 592.1,1002.0 591.1,1009.4 584.7,1014.0 583.8,1018.6 558.1,1026.8 548.9,1033.3 526.9,1039.7 521.4,1033.3 517.0,1037.0 512.2,1037.9 508.5,1047.0 506.5,1046.0 504.0,1040.6 500.3,1048.9 498.5,1063.5 497.2,1052.0 494.8,1041.5 492.5,1010.0 491.0,960.0 489.3,1043.4 488.0,1000.0 486.5,915.0" fill="none" stroke="rgb(125,120,123)" stroke-width="2.6" stroke-linejoin="round"/>
<polyline points="486.5,736.4 515.5,709.0 538.0,686.0 561.0,668.0" fill="none" stroke="rgb(120,132,126)" stroke-opacity="0.9" stroke-width="2" stroke-linejoin="round"/>
<polyline points="561.0,668.0 572.3,641.0 580.2,624.5 582.2,627.0 582.6,679.5 606.4,677.7 612.0,675.5 624.5,674.5 629.0,677.0 658.6,679.5 663.0,683.6 690.0,681.2 741.7,679.3 793.3,680.3 835.4,685.0 919.6,687.0 1010.0,687.9 1038.7,689.8 1040.2,697.5 1077.0,695.6 1143.9,697.5 1247.2,701.3 1249.0,703.6 1258.7,701.3 1326.5,702.3" fill="none" stroke="rgb(196,56,94)" stroke-opacity="0.85" stroke-width="2.2" stroke-linejoin="round"/>
<polyline points="1326.5,987.5 1249.1,983.5 1247.2,976.4 1245.3,983.3 1201.3,983.1 1143.9,981.4 1101.8,980.8 1067.4,981.2 1044.4,978.0 1039.7,970.7 1038.7,981.5 1020.0,982.2 957.8,979.3 900.4,975.5 835.4,969.9 834.4,961.0 833.5,969.7 766.5,965.0 700.0,961.7 627.9,953.4 626.6,946.0 625.1,953.4 598.5,954.3 582.0,956.2 579.2,960.8 571.0,949.0 563.6,937.0" fill="none" stroke="rgb(196,56,94)" stroke-opacity="0.85" stroke-width="2.2" stroke-linejoin="round"/>
<polyline points="563.6,937.0 552.6,929.6 525.0,931.4 512.2,935.0 500.0,927.0 486.5,913.0" fill="none" stroke="rgb(120,132,126)" stroke-opacity="0.9" stroke-width="2" stroke-linejoin="round"/>
<polyline points="486.5,681.8 490.5,659.0 493.0,630.0 495.0,609.0 498.4,608.6 504.0,616.0 505.2,645.0 506.4,677.0 509.8,679.5 514.3,700.0 524.5,697.7 545.0,679.5 550.0,672.0 553.0,659.0 554.2,630.0 555.2,604.5 557.0,591.0 559.0,591.0 559.7,650.0 560.2,708.0 570.0,706.3 579.0,707.0 606.4,711.0 608.3,707.0 609.0,695.5 612.0,695.5 613.3,710.0 614.3,719.0 640.5,725.0 663.0,728.4 690.0,728.1 741.7,725.2 749.3,732.9 785.7,733.8 843.0,728.1 911.9,727.1 929.1,731.0 977.0,727.1 1029.0,724.3 1048.3,719.5 1105.7,719.5 1117.1,715.7 1134.4,721.4 1163.0,724.3 1230.0,725.2 1249.1,719.5 1255.8,715.7 1262.5,718.5 1297.0,719.5 1326.5,715.7" fill="none" stroke="rgb(84,186,152)" stroke-opacity="0.85" stroke-width="2.2" stroke-linejoin="round"/>
<polyline points="1326.5,966.9 1163.0,957.3 1010.0,948.7 881.3,943.9 766.5,939.1 700.0,936.9 614.1,935.0 612.3,950.0 610.4,962.6 609.0,950.0 607.7,940.6 572.8,938.7 560.4,935.0 559.4,1000.0 558.1,1056.2 555.0,1040.0 552.6,1026.8 550.6,990.0 548.9,964.4 543.4,953.4 525.0,942.4 511.3,936.9 510.3,950.0 509.5,953.4 506.7,944.2 495.7,944.2 493.9,925.9 486.5,913.0" fill="none" stroke="rgb(84,186,152)" stroke-opacity="0.85" stroke-width="2.2" stroke-linejoin="round"/>
<rect x="1272.8" y="516" width="5.6" height="36" rx="2" fill="rgb(132,126,130)"/>
<line x1="1328.3" x2="1328.3" y1="716" y2="968" stroke="rgb(60,225,165)" stroke-width="3"/>
<line x1="1328.3" x2="1328.3" y1="702" y2="716" stroke="rgb(225,30,70)" stroke-width="3.4"/>
<line x1="1328.3" x2="1328.3" y1="968" y2="988" stroke="rgb(225,30,70)" stroke-width="3.4"/>
<g stroke="#111" stroke-width="2.2" fill="none">
<line x1="479" x2="1337" y1="514.8" y2="514.8"/>
<line x1="479" x2="1337" y1="1072.0" y2="1072.0"/>
<line x1="1330.3" x2="1330.3" y1="514.8" y2="1072.0"/>
</g>
<line x1="485.4" x2="485.4" y1="514.8" y2="1072.0" stroke="#2a2f2d" stroke-width="1.8"/>
<g stroke="#111" stroke-width="2" fill="none">
<line x1="485.8" x2="485.8" y1="1064.5" y2="1079.0"/>
<line x1="513.9" x2="513.9" y1="1067.0" y2="1072.0" stroke-width="1.7"/>
<line x1="542.1" x2="542.1" y1="1067.0" y2="1072.0" stroke-width="1.7"/>
<line x1="570.2" x2="570.2" y1="1067.0" y2="1072.0" stroke-width="1.7"/>
<line x1="598.4" x2="598.4" y1="1067.0" y2="1072.0" stroke-width="1.7"/>
<line x1="626.5" x2="626.5" y1="1064.5" y2="1079.0"/>
<line x1="654.6" x2="654.6" y1="1067.0" y2="1072.0" stroke-width="1.7"/>
<line x1="682.8" x2="682.8" y1="1067.0" y2="1072.0" stroke-width="1.7"/>
<line x1="710.9" x2="710.9" y1="1067.0" y2="1072.0" stroke-width="1.7"/>
<line x1="739.1" x2="739.1" y1="1067.0" y2="1072.0" stroke-width="1.7"/>
<line x1="767.2" x2="767.2" y1="1064.5" y2="1079.0"/>
<line x1="795.3" x2="795.3" y1="1067.0" y2="1072.0" stroke-width="1.7"/>
<line x1="823.5" x2="823.5" y1="1067.0" y2="1072.0" stroke-width="1.7"/>
<line x1="851.6" x2="851.6" y1="1067.0" y2="1072.0" stroke-width="1.7"/>
<line x1="879.8" x2="879.8" y1="1067.0" y2="1072.0" stroke-width="1.7"/>
<line x1="907.9" x2="907.9" y1="1064.5" y2="1079.0"/>
<line x1="936.0" x2="936.0" y1="1067.0" y2="1072.0" stroke-width="1.7"/>
<line x1="964.2" x2="964.2" y1="1067.0" y2="1072.0" stroke-width="1.7"/>
<line x1="992.3" x2="992.3" y1="1067.0" y2="1072.0" stroke-width="1.7"/>
<line x1="1020.5" x2="1020.5" y1="1067.0" y2="1072.0" stroke-width="1.7"/>
<line x1="1048.6" x2="1048.6" y1="1064.5" y2="1079.0"/>
<line x1="1076.7" x2="1076.7" y1="1067.0" y2="1072.0" stroke-width="1.7"/>
<line x1="1104.9" x2="1104.9" y1="1067.0" y2="1072.0" stroke-width="1.7"/>
<line x1="1133.0" x2="1133.0" y1="1067.0" y2="1072.0" stroke-width="1.7"/>
<line x1="1161.2" x2="1161.2" y1="1067.0" y2="1072.0" stroke-width="1.7"/>
<line x1="1189.3" x2="1189.3" y1="1064.5" y2="1079.0"/>
<line x1="1217.4" x2="1217.4" y1="1067.0" y2="1072.0" stroke-width="1.7"/>
<line x1="1245.6" x2="1245.6" y1="1067.0" y2="1072.0" stroke-width="1.7"/>
<line x1="1273.7" x2="1273.7" y1="1067.0" y2="1072.0" stroke-width="1.7"/>
<line x1="1301.9" x2="1301.9" y1="1067.0" y2="1072.0" stroke-width="1.7"/>
<line x1="1330.0" x2="1330.0" y1="1064.5" y2="1079.0"/>
<line x1="556.9" x2="556.9" y1="506.8" y2="522.3"/>
<line x1="628.4" x2="628.4" y1="506.8" y2="522.3"/>
<line x1="679.6" x2="679.6" y1="506.8" y2="522.3"/>
<line x1="730.8" x2="730.8" y1="506.8" y2="522.3"/>
<line x1="782.2" x2="782.2" y1="506.8" y2="522.3"/>
<line x1="834.9" x2="834.9" y1="506.8" y2="522.3"/>
<line x1="885.6" x2="885.6" y1="506.8" y2="522.3"/>
<line x1="937.4" x2="937.4" y1="506.8" y2="522.3"/>
<line x1="989.0" x2="989.0" y1="506.8" y2="522.3"/>
<line x1="1041.6" x2="1041.6" y1="506.8" y2="522.3"/>
<line x1="1091.6" x2="1091.6" y1="506.8" y2="522.3"/>
<line x1="1144.2" x2="1144.2" y1="506.8" y2="522.3"/>
<line x1="1196.0" x2="1196.0" y1="506.8" y2="522.3"/>
<line x1="1247.7" x2="1247.7" y1="506.8" y2="522.3"/>
<line x1="1298.4" x2="1298.4" y1="506.8" y2="522.3"/>
<line x1="521.8" x2="521.8" y1="514.8" y2="519.8" stroke-width="1.7"/>
<line x1="592.2" x2="592.2" y1="514.8" y2="519.8" stroke-width="1.7"/>
<line x1="653.8" x2="653.8" y1="514.8" y2="519.8" stroke-width="1.7"/>
<line x1="705.2" x2="705.2" y1="514.8" y2="519.8" stroke-width="1.7"/>
<line x1="756.5" x2="756.5" y1="514.8" y2="519.8" stroke-width="1.7"/>
<line x1="808.5" x2="808.5" y1="514.8" y2="519.8" stroke-width="1.7"/>
<line x1="860.2" x2="860.2" y1="514.8" y2="519.8" stroke-width="1.7"/>
<line x1="911.5" x2="911.5" y1="514.8" y2="519.8" stroke-width="1.7"/>
<line x1="963.2" x2="963.2" y1="514.8" y2="519.8" stroke-width="1.7"/>
<line x1="1015.3" x2="1015.3" y1="514.8" y2="519.8" stroke-width="1.7"/>
<line x1="1066.6" x2="1066.6" y1="514.8" y2="519.8" stroke-width="1.7"/>
<line x1="1117.9" x2="1117.9" y1="514.8" y2="519.8" stroke-width="1.7"/>
<line x1="1170.1" x2="1170.1" y1="514.8" y2="519.8" stroke-width="1.7"/>
<line x1="1221.8" x2="1221.8" y1="514.8" y2="519.8" stroke-width="1.7"/>
<line x1="1273.1" x2="1273.1" y1="514.8" y2="519.8" stroke-width="1.7"/>
<line x1="1323.5" x2="1323.5" y1="514.8" y2="519.8" stroke-width="1.7"/>
<line x1="479" x2="485.5" y1="1072.0" y2="1072.0"/>
<line x1="1323.5" x2="1337" y1="1072.0" y2="1072.0"/>
<line x1="1325.5" x2="1330" y1="1049.7" y2="1049.7" stroke-width="1.7"/>
<line x1="486" x2="490" y1="1049.7" y2="1049.7" stroke-width="1.4" stroke-opacity="0.55"/>
<line x1="1325.5" x2="1330" y1="1027.4" y2="1027.4" stroke-width="1.7"/>
<line x1="486" x2="490" y1="1027.4" y2="1027.4" stroke-width="1.4" stroke-opacity="0.55"/>
<line x1="1325.5" x2="1330" y1="1005.1" y2="1005.1" stroke-width="1.7"/>
<line x1="486" x2="490" y1="1005.1" y2="1005.1" stroke-width="1.4" stroke-opacity="0.55"/>
<line x1="1325.5" x2="1330" y1="982.8" y2="982.8" stroke-width="1.7"/>
<line x1="486" x2="490" y1="982.8" y2="982.8" stroke-width="1.4" stroke-opacity="0.55"/>
<line x1="479" x2="485.5" y1="960.6" y2="960.6"/>
<line x1="1323.5" x2="1337" y1="960.6" y2="960.6"/>
<line x1="1325.5" x2="1330" y1="938.3" y2="938.3" stroke-width="1.7"/>
<line x1="486" x2="490" y1="938.3" y2="938.3" stroke-width="1.4" stroke-opacity="0.55"/>
<line x1="1325.5" x2="1330" y1="916.0" y2="916.0" stroke-width="1.7"/>
<line x1="486" x2="490" y1="916.0" y2="916.0" stroke-width="1.4" stroke-opacity="0.55"/>
<line x1="1325.5" x2="1330" y1="893.7" y2="893.7" stroke-width="1.7"/>
<line x1="486" x2="490" y1="893.7" y2="893.7" stroke-width="1.4" stroke-opacity="0.55"/>
<line x1="1325.5" x2="1330" y1="871.4" y2="871.4" stroke-width="1.7"/>
<line x1="486" x2="490" y1="871.4" y2="871.4" stroke-width="1.4" stroke-opacity="0.55"/>
<line x1="479" x2="485.5" y1="849.1" y2="849.1"/>
<line x1="1323.5" x2="1337" y1="849.1" y2="849.1"/>
<line x1="1325.5" x2="1330" y1="826.8" y2="826.8" stroke-width="1.7"/>
<line x1="486" x2="490" y1="826.8" y2="826.8" stroke-width="1.4" stroke-opacity="0.55"/>
<line x1="1325.5" x2="1330" y1="804.5" y2="804.5" stroke-width="1.7"/>
<line x1="486" x2="490" y1="804.5" y2="804.5" stroke-width="1.4" stroke-opacity="0.55"/>
<line x1="1325.5" x2="1330" y1="782.3" y2="782.3" stroke-width="1.7"/>
<line x1="486" x2="490" y1="782.3" y2="782.3" stroke-width="1.4" stroke-opacity="0.55"/>
<line x1="1325.5" x2="1330" y1="760.0" y2="760.0" stroke-width="1.7"/>
<line x1="486" x2="490" y1="760.0" y2="760.0" stroke-width="1.4" stroke-opacity="0.55"/>
<line x1="479" x2="485.5" y1="737.7" y2="737.7"/>
<line x1="1323.5" x2="1337" y1="737.7" y2="737.7"/>
<line x1="1325.5" x2="1330" y1="715.4" y2="715.4" stroke-width="1.7"/>
<line x1="486" x2="490" y1="715.4" y2="715.4" stroke-width="1.4" stroke-opacity="0.55"/>
<line x1="1325.5" x2="1330" y1="693.1" y2="693.1" stroke-width="1.7"/>
<line x1="486" x2="490" y1="693.1" y2="693.1" stroke-width="1.4" stroke-opacity="0.55"/>
<line x1="1325.5" x2="1330" y1="670.8" y2="670.8" stroke-width="1.7"/>
<line x1="486" x2="490" y1="670.8" y2="670.8" stroke-width="1.4" stroke-opacity="0.55"/>
<line x1="1325.5" x2="1330" y1="648.5" y2="648.5" stroke-width="1.7"/>
<line x1="486" x2="490" y1="648.5" y2="648.5" stroke-width="1.4" stroke-opacity="0.55"/>
<line x1="479" x2="485.5" y1="626.2" y2="626.2"/>
<line x1="1323.5" x2="1337" y1="626.2" y2="626.2"/>
<line x1="1325.5" x2="1330" y1="604.0" y2="604.0" stroke-width="1.7"/>
<line x1="486" x2="490" y1="604.0" y2="604.0" stroke-width="1.4" stroke-opacity="0.55"/>
<line x1="1325.5" x2="1330" y1="581.7" y2="581.7" stroke-width="1.7"/>
<line x1="486" x2="490" y1="581.7" y2="581.7" stroke-width="1.4" stroke-opacity="0.55"/>
<line x1="1325.5" x2="1330" y1="559.4" y2="559.4" stroke-width="1.7"/>
<line x1="486" x2="490" y1="559.4" y2="559.4" stroke-width="1.4" stroke-opacity="0.55"/>
<line x1="1325.5" x2="1330" y1="537.1" y2="537.1" stroke-width="1.7"/>
<line x1="486" x2="490" y1="537.1" y2="537.1" stroke-width="1.4" stroke-opacity="0.55"/>
<line x1="479" x2="485.5" y1="514.8" y2="514.8"/>
<line x1="1323.5" x2="1337" y1="514.8" y2="514.8"/>
</g>
<g font-family="'Liberation Sans', sans-serif" fill="#3c3c3c">
<text x="559.5" y="498.3" text-anchor="middle" font-size="18.2">100</text>
<text x="631.0" y="498.3" text-anchor="middle" font-size="18.2">200</text>
<text x="680.3" y="498.3" text-anchor="middle" font-size="18.2">300</text>
<text x="732.4" y="498.3" text-anchor="middle" font-size="18.2">400</text>
<text x="783.0" y="498.3" text-anchor="middle" font-size="18.2">500</text>
<text x="835.5" y="498.3" text-anchor="middle" font-size="18.2">600</text>
<text x="888.1" y="498.3" text-anchor="middle" font-size="18.2">700</text>
<text x="938.9" y="498.3" text-anchor="middle" font-size="18.2">800</text>
<text x="991.6" y="498.3" text-anchor="middle" font-size="18.2">900</text>
<text x="1043.2" y="498.3" text-anchor="middle" font-size="18.2">1000</text>
<text x="1094.4" y="498.3" text-anchor="middle" font-size="18.2">1100</text>
<text x="1147.0" y="498.3" text-anchor="middle" font-size="18.2">1200</text>
<text x="1196.5" y="498.3" text-anchor="middle" font-size="18.2">1300</text>
<text x="1248.7" y="498.3" text-anchor="middle" font-size="18.2">1400</text>
<text x="1301.2" y="498.3" text-anchor="middle" font-size="18.2">1500</text>
<text x="486.6" y="1105.3" text-anchor="middle" font-size="18.2">0</text>
<text x="627.3" y="1105.3" text-anchor="middle" font-size="18.2">100</text>
<text x="768.0" y="1105.3" text-anchor="middle" font-size="18.2">200</text>
<text x="908.7" y="1105.3" text-anchor="middle" font-size="18.2">300</text>
<text x="1049.4" y="1105.3" text-anchor="middle" font-size="18.2">400</text>
<text x="1190.1" y="1105.3" text-anchor="middle" font-size="18.2">500</text>
<text x="1330.8" y="1105.3" text-anchor="middle" font-size="18.2">600</text>
<text x="470.2" y="1078.9" text-anchor="end" font-size="18.6" fill="#555">0.5</text>
<text x="1349.4" y="1078.9" text-anchor="start" font-size="18.6" fill="#555">0.5</text>
<text x="470.2" y="967.5" text-anchor="end" font-size="18.6" fill="#555">1.0</text>
<text x="1349.4" y="967.5" text-anchor="start" font-size="18.6" fill="#555">1.0</text>
<text x="470.2" y="856.0" text-anchor="end" font-size="18.6" fill="#555">1.5</text>
<text x="1349.4" y="856.0" text-anchor="start" font-size="18.6" fill="#555">1.5</text>
<text x="470.2" y="744.6" text-anchor="end" font-size="18.6" fill="#555">2.0</text>
<text x="1349.4" y="744.6" text-anchor="start" font-size="18.6" fill="#555">2.0</text>
<text x="470.2" y="633.1" text-anchor="end" font-size="18.6" fill="#555">2.5</text>
<text x="1349.4" y="633.1" text-anchor="start" font-size="18.6" fill="#555">2.5</text>
<text x="470.2" y="521.7" text-anchor="end" font-size="18.6" fill="#555">3.0</text>
<text x="1349.4" y="521.7" text-anchor="start" font-size="18.6" fill="#555">3.0</text>
<text x="849.7" y="467.6" font-size="19.6" font-weight="bold" fill="#111" textLength="146.2" lengthAdjust="spacingAndGlyphs">Cycle Number</text>
<text x="869.6" y="1132.3" font-size="19.6" font-weight="bold" fill="#111" textLength="78.2" lengthAdjust="spacingAndGlyphs">Time (h)</text>
<text transform="translate(432,851.7) rotate(-90)" font-size="19.6" font-weight="bold" fill="#111" textLength="119.4" lengthAdjust="spacingAndGlyphs">Potential (V)</text>
<line x1="705.4" x2="751.1" y1="542.9" y2="542.9" stroke="rgb(205,35,75)" stroke-width="2.8"/>
<line x1="705.4" x2="751.1" y1="579.2" y2="579.2" stroke="rgb(55,215,160)" stroke-width="2.8"/>
<line x1="705.4" x2="751.1" y1="615" y2="615" stroke="rgb(128,124,126)" stroke-width="2.8"/>
<text x="759.6" y="550.8" font-size="21" textLength="79" lengthAdjust="spacingAndGlyphs">Pt-Ru-C</text>
<text x="760.2" y="586.8" font-size="21" textLength="128.5" lengthAdjust="spacingAndGlyphs">ALD MnFeO<tspan font-style="italic" font-size="15" dy="5">x</tspan></text>
<text x="759.8" y="622.9" font-size="21" textLength="90.5" lengthAdjust="spacingAndGlyphs">Bare GDL</text>
<text x="1109.2" y="564" font-size="21.5" textLength="144" lengthAdjust="spacingAndGlyphs">|<tspan font-family="'Liberation Serif', serif" font-style="italic">i</tspan>|=10 mA cm<tspan font-size="13" dy="-9">-2</tspan></text>
</g>
<text x="367.5" y="494.6" font-family="'Liberation Serif', serif" font-size="51" fill="#111">(e)</text>
</g>
</svg>
</body></html>
